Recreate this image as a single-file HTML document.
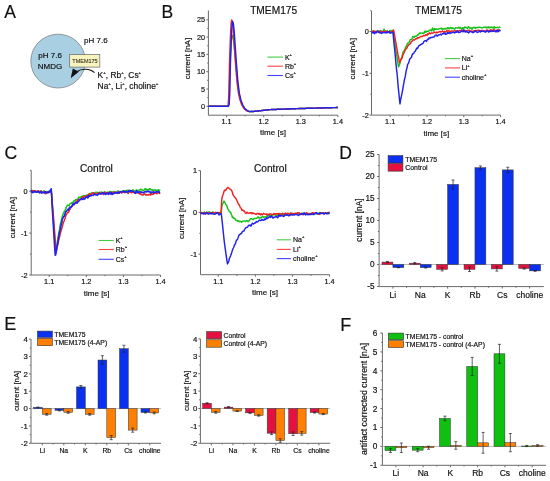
<!DOCTYPE html>
<html><head><meta charset="utf-8"><style>
html,body{margin:0;padding:0;background:#fff;}
svg{display:block;font-family:"Liberation Sans", sans-serif;filter:blur(0.3px);}
text{stroke:#111;stroke-width:0.18px;}
</style></head><body>
<svg width="550" height="481" viewBox="0 0 550 481">
<rect width="550" height="481" fill="#fff"/>
<text x="4.30" y="18.30" font-size="17.5" text-anchor="start" fill="#111">A</text>
<ellipse cx="58.1" cy="61.1" rx="27.3" ry="26.9" fill="#a9cfe3" stroke="#777" stroke-width="0.7"/>
<text x="50.10" y="58.48" font-size="8" text-anchor="middle" fill="#111">pH 7.6</text>
<text x="50.00" y="68.68" font-size="8" text-anchor="middle" fill="#111">NMDG</text>
<text x="95.90" y="43.28" font-size="8" text-anchor="middle" fill="#111">pH 7.6</text>
<rect x="69.70" y="54.60" width="30.10" height="12.50" fill="#f8f4c0" stroke="#666" stroke-width="0.7"/>
<text x="85.00" y="62.78" font-size="5.5" text-anchor="middle" fill="#3a3020" style="stroke:#3a3020;stroke-width:0.1px">TMEM175</text>
<path d="M94.5,72.7 C90,68.3 82,68.3 76.5,71.8" fill="none" stroke="#111" stroke-width="1.1"/>
<path d="M72.8,68.6 L70.7,78.3 L78.8,71.8 Z" fill="#111"/>
<text x="97.6" y="77.60" font-size="8.4" fill="#111">K<tspan font-size="4.4" dy="-3.9">+</tspan><tspan dy="3.9">, Rb</tspan><tspan font-size="4.4" dy="-3.9">+</tspan><tspan dy="3.9">, Cs</tspan><tspan font-size="4.4" dy="-3.9">+</tspan></text>
<text x="97.6" y="89.10" font-size="8.4" fill="#111">Na<tspan font-size="4.4" dy="-3.9">+</tspan><tspan dy="3.9">, Li</tspan><tspan font-size="4.4" dy="-3.9">+</tspan><tspan dy="3.9">, choline</tspan><tspan font-size="4.4" dy="-3.9">+</tspan></text>
<text x="161.40" y="17.90" font-size="17.5" text-anchor="start" fill="#111">B</text>
<text x="273.65" y="14.47" font-size="10.2" text-anchor="middle" fill="#111">TMEM175</text>
<text x="0" y="0" font-size="8" text-anchor="middle" fill="#111" transform="translate(189.98 58.50) rotate(-90)">current [nA]</text>
<text x="273.00" y="135.18" font-size="8" text-anchor="middle" fill="#111">time [s]</text>
<line x1="208.40" y1="10.50" x2="208.40" y2="115.20" stroke="#6a6a6a" stroke-width="1.0"/>
<line x1="206.40" y1="106.30" x2="208.40" y2="106.30" stroke="#6a6a6a" stroke-width="1.0"/>
<text x="205.00" y="108.93" font-size="7.3" text-anchor="end" fill="#111">0</text>
<line x1="206.40" y1="89.00" x2="208.40" y2="89.00" stroke="#6a6a6a" stroke-width="1.0"/>
<text x="205.00" y="91.63" font-size="7.3" text-anchor="end" fill="#111">5</text>
<line x1="206.40" y1="71.70" x2="208.40" y2="71.70" stroke="#6a6a6a" stroke-width="1.0"/>
<text x="205.00" y="74.33" font-size="7.3" text-anchor="end" fill="#111">10</text>
<line x1="206.40" y1="54.40" x2="208.40" y2="54.40" stroke="#6a6a6a" stroke-width="1.0"/>
<text x="205.00" y="57.03" font-size="7.3" text-anchor="end" fill="#111">15</text>
<line x1="206.40" y1="37.10" x2="208.40" y2="37.10" stroke="#6a6a6a" stroke-width="1.0"/>
<text x="205.00" y="39.73" font-size="7.3" text-anchor="end" fill="#111">20</text>
<line x1="206.40" y1="19.80" x2="208.40" y2="19.80" stroke="#6a6a6a" stroke-width="1.0"/>
<text x="205.00" y="22.43" font-size="7.3" text-anchor="end" fill="#111">25</text>
<line x1="207.20" y1="97.65" x2="208.40" y2="97.65" stroke="#6a6a6a" stroke-width="1.0"/>
<line x1="207.20" y1="80.35" x2="208.40" y2="80.35" stroke="#6a6a6a" stroke-width="1.0"/>
<line x1="207.20" y1="63.05" x2="208.40" y2="63.05" stroke="#6a6a6a" stroke-width="1.0"/>
<line x1="207.20" y1="45.75" x2="208.40" y2="45.75" stroke="#6a6a6a" stroke-width="1.0"/>
<line x1="207.20" y1="28.45" x2="208.40" y2="28.45" stroke="#6a6a6a" stroke-width="1.0"/>
<line x1="208.40" y1="115.20" x2="337.90" y2="115.20" stroke="#6a6a6a" stroke-width="1.0"/>
<line x1="226.60" y1="115.20" x2="226.60" y2="117.20" stroke="#6a6a6a" stroke-width="1.0"/>
<text x="226.60" y="124.33" font-size="7.3" text-anchor="middle" fill="#111">1.1</text>
<line x1="263.70" y1="115.20" x2="263.70" y2="117.20" stroke="#6a6a6a" stroke-width="1.0"/>
<text x="263.70" y="124.33" font-size="7.3" text-anchor="middle" fill="#111">1.2</text>
<line x1="300.80" y1="115.20" x2="300.80" y2="117.20" stroke="#6a6a6a" stroke-width="1.0"/>
<text x="300.80" y="124.33" font-size="7.3" text-anchor="middle" fill="#111">1.3</text>
<line x1="337.90" y1="115.20" x2="337.90" y2="117.20" stroke="#6a6a6a" stroke-width="1.0"/>
<text x="337.90" y="124.33" font-size="7.3" text-anchor="middle" fill="#111">1.4</text>
<line x1="245.15" y1="115.20" x2="245.15" y2="116.40" stroke="#6a6a6a" stroke-width="1.0"/>
<line x1="282.25" y1="115.20" x2="282.25" y2="116.40" stroke="#6a6a6a" stroke-width="1.0"/>
<line x1="319.35" y1="115.20" x2="319.35" y2="116.40" stroke="#6a6a6a" stroke-width="1.0"/>
<polyline points="208.40,106.3 208.65,106.3 208.90,106.3 209.15,106.3 209.40,106.3 209.65,106.3 209.90,106.3 210.15,106.3 210.40,106.3 210.65,106.3 210.90,106.3 211.15,106.3 211.40,106.3 211.65,106.3 211.90,106.3 212.15,106.3 212.40,106.3 212.65,106.3 212.90,106.3 213.15,106.3 213.40,106.3 213.65,106.3 213.90,106.3 214.15,106.3 214.40,106.3 214.65,106.3 214.90,106.3 215.15,106.3 215.40,106.3 215.65,106.3 215.90,106.3 216.15,106.3 216.40,106.3 216.65,106.3 216.90,106.3 217.15,106.3 217.40,106.3 217.65,106.3 217.90,106.3 218.15,106.3 218.40,106.3 218.65,106.3 218.90,106.3 219.15,106.3 219.40,106.3 219.65,106.3 219.90,106.3 220.15,106.3 220.40,106.3 220.65,106.3 220.90,106.3 221.15,106.3 221.40,106.3 221.65,106.3 221.90,106.3 222.15,106.3 222.40,106.3 222.65,106.3 222.90,106.3 223.15,106.3 223.40,106.3 223.65,106.3 223.90,106.3 224.15,106.3 224.40,106.3 224.65,106.3 224.90,106.3 225.15,106.3 225.40,106.3 225.65,106.3 225.90,106.3 226.15,106.3 226.40,106.3 226.65,106.3 226.90,106.3 227.15,106.3 227.40,106.3 227.65,106.3 227.90,106.3 228.15,105.9 228.40,105.5 228.65,105.1 228.90,101.7 229.15,97.5 229.40,90.6 229.65,79.7 229.90,68.7 230.15,60.7 230.40,56.2 230.65,51.7 230.90,47.1 231.15,43.4 231.40,40.3 231.65,37.6 231.90,36.6 232.15,35.6 232.40,35.7 232.65,36.1 232.90,36.5 233.15,38.0 233.40,39.6 233.65,41.1 233.90,43.0 234.15,45.6 234.40,48.1 234.65,50.6 234.90,53.1 235.15,55.6 235.40,58.1 235.65,60.5 235.90,63.0 236.15,65.6 236.40,68.6 236.65,71.7 236.90,74.7 237.15,77.8 237.40,80.8 237.65,83.2 237.90,85.1 238.15,87.1 238.40,89.1 238.65,91.0 238.90,93.0 239.15,94.1 239.40,95.2 239.65,96.3 239.90,97.4 240.15,98.5 240.40,99.6 240.65,100.4 240.90,101.1 241.15,101.8 241.40,102.5 241.65,103.2 241.90,103.9 242.15,104.6 242.40,105.0 242.65,105.5 242.90,105.9 243.15,106.3 243.40,106.7 243.65,107.2 243.90,107.6 244.15,108.0 244.40,108.4 244.65,108.6 244.90,108.9 245.15,109.1 245.40,109.3 245.65,109.5 245.90,109.8 246.15,110.0 246.40,110.2 246.65,110.5 246.90,110.6 247.15,110.7 247.40,110.8 247.65,110.9 247.90,111.0 248.15,111.1 248.40,111.2 248.65,111.3 248.90,111.4 249.15,111.5 249.40,111.6 249.65,111.6 249.90,111.6 250.15,111.6 250.40,111.6 250.65,111.5 250.90,111.5 251.15,111.5 251.40,111.5 251.65,111.5 251.90,111.5 252.15,111.5 252.40,111.4 252.65,111.4 252.90,111.4 253.15,111.4 253.40,111.4 253.65,111.4 253.90,111.4 254.15,111.3 254.40,111.3 254.65,111.3 254.90,111.3 255.15,111.3 255.40,111.3 255.65,111.2 255.90,111.2 256.15,111.2 256.40,111.1 256.65,111.1 256.90,111.1 257.15,111.1 257.40,111.0 257.65,111.0 257.90,111.0 258.15,110.9 258.40,110.9 258.65,110.9 258.90,110.9 259.15,110.8 259.40,110.8 259.65,110.8 259.90,110.7 260.15,110.7 260.40,110.7 260.65,110.7 260.90,110.6 261.15,110.6 261.40,110.6 261.65,110.5 261.90,110.5 262.15,110.5 262.40,110.5 262.65,110.4 262.90,110.4 263.15,110.4 263.40,110.3 263.65,110.3 263.90,110.3 264.15,110.3 264.40,110.2 264.65,110.2 264.90,110.2 265.15,110.1 265.40,110.1 265.65,110.1 265.90,110.1 266.15,110.0 266.40,110.0 266.65,110.0 266.90,109.9 267.15,109.9 267.40,109.9 267.65,109.9 267.90,109.8 268.15,109.8 268.40,109.8 268.65,109.8 268.90,109.7 269.15,109.7 269.40,109.7 269.65,109.6 269.90,109.6 270.15,109.6 270.40,109.6 270.65,109.6 270.90,109.6 271.15,109.6 271.40,109.5 271.65,109.5 271.90,109.5 272.15,109.5 272.40,109.5 272.65,109.5 272.90,109.5 273.15,109.5 273.40,109.5 273.65,109.5 273.90,109.5 274.15,109.4 274.40,109.4 274.65,109.4 274.90,109.4 275.15,109.4 275.40,109.4 275.65,109.4 275.90,109.4 276.15,109.4 276.40,109.4 276.65,109.4 276.90,109.3 277.15,109.3 277.40,109.3 277.65,109.3 277.90,109.3 278.15,109.3 278.40,109.3 278.65,109.3 278.90,109.3 279.15,109.3 279.40,109.3 279.65,109.2 279.90,109.2 280.15,109.2 280.40,109.2 280.65,109.2 280.90,109.2 281.15,109.2 281.40,109.2 281.65,109.2 281.90,109.2 282.15,109.2 282.40,109.1 282.65,109.1 282.90,109.1 283.15,109.1 283.40,109.1 283.65,109.1 283.90,109.1 284.15,109.1 284.40,109.1 284.65,109.1 284.90,109.1 285.15,109.0 285.40,109.0 285.65,109.0 285.90,109.0 286.15,109.0 286.40,109.0 286.65,109.0 286.90,109.0 287.15,109.0 287.40,109.0 287.65,109.0 287.90,108.9 288.15,108.9 288.40,108.9 288.65,108.9 288.90,108.9 289.15,108.9 289.40,108.9 289.65,108.9 289.90,108.9 290.15,108.9 290.40,108.9 290.65,108.8 290.90,108.8 291.15,108.8 291.40,108.8 291.65,108.8 291.90,108.8 292.15,108.8 292.40,108.8 292.65,108.8 292.90,108.8 293.15,108.8 293.40,108.7 293.65,108.7 293.90,108.7 294.15,108.7 294.40,108.7 294.65,108.7 294.90,108.7 295.15,108.7 295.40,108.7 295.65,108.7 295.90,108.7 296.15,108.6 296.40,108.6 296.65,108.6 296.90,108.6 297.15,108.6 297.40,108.6 297.65,108.6 297.90,108.6 298.15,108.6 298.40,108.6 298.65,108.5 298.90,108.5 299.15,108.5 299.40,108.5 299.65,108.5 299.90,108.5 300.15,108.5 300.40,108.5 300.65,108.5 300.90,108.5 301.15,108.5 301.40,108.5 301.65,108.5 301.90,108.4 302.15,108.4 302.40,108.4 302.65,108.4 302.90,108.4 303.15,108.4 303.40,108.4 303.65,108.4 303.90,108.4 304.15,108.4 304.40,108.4 304.65,108.4 304.90,108.4 305.15,108.4 305.40,108.4 305.65,108.4 305.90,108.3 306.15,108.3 306.40,108.3 306.65,108.3 306.90,108.3 307.15,108.3 307.40,108.3 307.65,108.3 307.90,108.3 308.15,108.3 308.40,108.3 308.65,108.3 308.90,108.3 309.15,108.3 309.40,108.3 309.65,108.2 309.90,108.2 310.15,108.2 310.40,108.2 310.65,108.2 310.90,108.2 311.15,108.2 311.40,108.2 311.65,108.2 311.90,108.2 312.15,108.2 312.40,108.2 312.65,108.2 312.90,108.2 313.15,108.2 313.40,108.1 313.65,108.1 313.90,108.1 314.15,108.1 314.40,108.1 314.65,108.1 314.90,108.1 315.15,108.1 315.40,108.1 315.65,108.1 315.90,108.1 316.15,108.1 316.40,108.1 316.65,108.1 316.90,108.1 317.15,108.0 317.40,108.0 317.65,108.0 317.90,108.0 318.15,108.0 318.40,108.0 318.65,108.0 318.90,108.0 319.15,108.0 319.40,108.0 319.65,108.0 319.90,108.0 320.15,108.0 320.40,108.0 320.65,108.0 320.90,107.9 321.15,107.9 321.40,107.9 321.65,107.9 321.90,107.9 322.15,107.9 322.40,107.9 322.65,107.9 322.90,107.9 323.15,107.9 323.40,107.9 323.65,107.9 323.90,107.9 324.15,107.9 324.40,107.9 324.65,107.8 324.90,107.8 325.15,107.8 325.40,107.8 325.65,107.8 325.90,107.8 326.15,107.8 326.40,107.8 326.65,107.8 326.90,107.8 327.15,107.8 327.40,107.8 327.65,107.8 327.90,107.8 328.15,107.8 328.40,107.8 328.65,107.7 328.90,107.7 329.15,107.7 329.40,107.7 329.65,107.7 329.90,107.7 330.15,107.7 330.40,107.7 330.65,107.7 330.90,107.7 331.15,107.7 331.40,107.7 331.65,107.7 331.90,107.7 332.15,107.7 332.40,107.6 332.65,107.6 332.90,107.6 333.15,107.6 333.40,107.6 333.65,107.6 333.90,107.6 334.15,107.6 334.40,107.6 334.65,107.6 334.90,107.6 335.15,107.6 335.40,107.6 335.65,107.6 335.90,107.6 336.15,107.5 336.40,107.5 336.65,107.5 336.90,107.5 337.15,107.5 337.40,107.5 337.65,107.5 337.90,107.5" fill="none" stroke="#1bbf1b" stroke-width="1.45" stroke-linejoin="round"/>
<polyline points="208.40,106.3 208.65,106.3 208.90,106.3 209.15,106.3 209.40,106.3 209.65,106.3 209.90,106.3 210.15,106.3 210.40,106.3 210.65,106.3 210.90,106.3 211.15,106.3 211.40,106.3 211.65,106.3 211.90,106.3 212.15,106.3 212.40,106.3 212.65,106.3 212.90,106.3 213.15,106.3 213.40,106.3 213.65,106.3 213.90,106.3 214.15,106.3 214.40,106.3 214.65,106.3 214.90,106.3 215.15,106.3 215.40,106.3 215.65,106.3 215.90,106.3 216.15,106.3 216.40,106.3 216.65,106.3 216.90,106.3 217.15,106.3 217.40,106.3 217.65,106.3 217.90,106.3 218.15,106.3 218.40,106.3 218.65,106.3 218.90,106.3 219.15,106.3 219.40,106.3 219.65,106.3 219.90,106.3 220.15,106.3 220.40,106.3 220.65,106.3 220.90,106.3 221.15,106.3 221.40,106.3 221.65,106.3 221.90,106.3 222.15,106.3 222.40,106.3 222.65,106.3 222.90,106.3 223.15,106.3 223.40,106.3 223.65,106.3 223.90,106.3 224.15,106.3 224.40,106.3 224.65,106.3 224.90,106.3 225.15,106.3 225.40,106.3 225.65,106.3 225.90,106.3 226.15,106.3 226.40,106.3 226.65,106.3 226.90,106.3 227.15,106.3 227.40,106.3 227.65,105.9 227.90,105.5 228.15,105.1 228.40,101.7 228.65,97.5 228.90,90.6 229.15,79.7 229.40,68.7 229.65,58.6 229.90,51.7 230.15,44.7 230.40,37.8 230.65,32.1 230.90,27.3 231.15,23.2 231.40,21.6 231.65,20.1 231.90,20.3 232.15,20.9 232.40,21.5 232.65,23.9 232.90,26.2 233.15,28.6 233.40,31.5 233.65,35.4 233.90,39.2 234.15,43.1 234.40,46.9 234.65,50.8 234.90,54.5 235.15,58.3 235.40,62.0 235.65,65.6 235.90,68.6 236.15,71.7 236.40,74.7 236.65,77.8 236.90,80.8 237.15,83.2 237.40,85.1 237.65,87.1 237.90,89.1 238.15,91.0 238.40,93.0 238.65,94.1 238.90,95.2 239.15,96.3 239.40,97.4 239.65,98.5 239.90,99.6 240.15,100.4 240.40,101.1 240.65,101.8 240.90,102.5 241.15,103.2 241.40,103.9 241.65,104.6 241.90,105.0 242.15,105.5 242.40,105.9 242.65,106.3 242.90,106.7 243.15,107.2 243.40,107.6 243.65,108.0 243.90,108.4 244.15,108.6 244.40,108.9 244.65,109.1 244.90,109.3 245.15,109.5 245.40,109.8 245.65,110.0 245.90,110.2 246.15,110.5 246.40,110.6 246.65,110.7 246.90,110.8 247.15,110.9 247.40,110.9 247.65,111.0 247.90,111.1 248.15,111.2 248.40,111.3 248.65,111.3 248.90,111.4 249.15,111.5 249.40,111.6 249.65,111.6 249.90,111.6 250.15,111.6 250.40,111.6 250.65,111.5 250.90,111.5 251.15,111.5 251.40,111.5 251.65,111.5 251.90,111.5 252.15,111.5 252.40,111.4 252.65,111.4 252.90,111.4 253.15,111.4 253.40,111.4 253.65,111.4 253.90,111.4 254.15,111.3 254.40,111.3 254.65,111.3 254.90,111.3 255.15,111.3 255.40,111.3 255.65,111.2 255.90,111.2 256.15,111.2 256.40,111.1 256.65,111.1 256.90,111.1 257.15,111.1 257.40,111.0 257.65,111.0 257.90,111.0 258.15,110.9 258.40,110.9 258.65,110.9 258.90,110.9 259.15,110.8 259.40,110.8 259.65,110.8 259.90,110.7 260.15,110.7 260.40,110.7 260.65,110.7 260.90,110.6 261.15,110.6 261.40,110.6 261.65,110.5 261.90,110.5 262.15,110.5 262.40,110.5 262.65,110.4 262.90,110.4 263.15,110.4 263.40,110.3 263.65,110.3 263.90,110.3 264.15,110.3 264.40,110.2 264.65,110.2 264.90,110.2 265.15,110.1 265.40,110.1 265.65,110.1 265.90,110.1 266.15,110.0 266.40,110.0 266.65,110.0 266.90,109.9 267.15,109.9 267.40,109.9 267.65,109.9 267.90,109.8 268.15,109.8 268.40,109.8 268.65,109.8 268.90,109.7 269.15,109.7 269.40,109.7 269.65,109.6 269.90,109.6 270.15,109.6 270.40,109.6 270.65,109.6 270.90,109.6 271.15,109.6 271.40,109.5 271.65,109.5 271.90,109.5 272.15,109.5 272.40,109.5 272.65,109.5 272.90,109.5 273.15,109.5 273.40,109.5 273.65,109.5 273.90,109.5 274.15,109.4 274.40,109.4 274.65,109.4 274.90,109.4 275.15,109.4 275.40,109.4 275.65,109.4 275.90,109.4 276.15,109.4 276.40,109.4 276.65,109.4 276.90,109.3 277.15,109.3 277.40,109.3 277.65,109.3 277.90,109.3 278.15,109.3 278.40,109.3 278.65,109.3 278.90,109.3 279.15,109.3 279.40,109.3 279.65,109.2 279.90,109.2 280.15,109.2 280.40,109.2 280.65,109.2 280.90,109.2 281.15,109.2 281.40,109.2 281.65,109.2 281.90,109.2 282.15,109.2 282.40,109.1 282.65,109.1 282.90,109.1 283.15,109.1 283.40,109.1 283.65,109.1 283.90,109.1 284.15,109.1 284.40,109.1 284.65,109.1 284.90,109.1 285.15,109.0 285.40,109.0 285.65,109.0 285.90,109.0 286.15,109.0 286.40,109.0 286.65,109.0 286.90,109.0 287.15,109.0 287.40,109.0 287.65,109.0 287.90,108.9 288.15,108.9 288.40,108.9 288.65,108.9 288.90,108.9 289.15,108.9 289.40,108.9 289.65,108.9 289.90,108.9 290.15,108.9 290.40,108.9 290.65,108.8 290.90,108.8 291.15,108.8 291.40,108.8 291.65,108.8 291.90,108.8 292.15,108.8 292.40,108.8 292.65,108.8 292.90,108.8 293.15,108.8 293.40,108.7 293.65,108.7 293.90,108.7 294.15,108.7 294.40,108.7 294.65,108.7 294.90,108.7 295.15,108.7 295.40,108.7 295.65,108.7 295.90,108.7 296.15,108.6 296.40,108.6 296.65,108.6 296.90,108.6 297.15,108.6 297.40,108.6 297.65,108.6 297.90,108.6 298.15,108.6 298.40,108.6 298.65,108.5 298.90,108.5 299.15,108.5 299.40,108.5 299.65,108.5 299.90,108.5 300.15,108.5 300.40,108.5 300.65,108.5 300.90,108.5 301.15,108.5 301.40,108.5 301.65,108.5 301.90,108.4 302.15,108.4 302.40,108.4 302.65,108.4 302.90,108.4 303.15,108.4 303.40,108.4 303.65,108.4 303.90,108.4 304.15,108.4 304.40,108.4 304.65,108.4 304.90,108.4 305.15,108.4 305.40,108.4 305.65,108.4 305.90,108.3 306.15,108.3 306.40,108.3 306.65,108.3 306.90,108.3 307.15,108.3 307.40,108.3 307.65,108.3 307.90,108.3 308.15,108.3 308.40,108.3 308.65,108.3 308.90,108.3 309.15,108.3 309.40,108.3 309.65,108.2 309.90,108.2 310.15,108.2 310.40,108.2 310.65,108.2 310.90,108.2 311.15,108.2 311.40,108.2 311.65,108.2 311.90,108.2 312.15,108.2 312.40,108.2 312.65,108.2 312.90,108.2 313.15,108.2 313.40,108.1 313.65,108.1 313.90,108.1 314.15,108.1 314.40,108.1 314.65,108.1 314.90,108.1 315.15,108.1 315.40,108.1 315.65,108.1 315.90,108.1 316.15,108.1 316.40,108.1 316.65,108.1 316.90,108.1 317.15,108.0 317.40,108.0 317.65,108.0 317.90,108.0 318.15,108.0 318.40,108.0 318.65,108.0 318.90,108.0 319.15,108.0 319.40,108.0 319.65,108.0 319.90,108.0 320.15,108.0 320.40,108.0 320.65,108.0 320.90,107.9 321.15,107.9 321.40,107.9 321.65,107.9 321.90,107.9 322.15,107.9 322.40,107.9 322.65,107.9 322.90,107.9 323.15,107.9 323.40,107.9 323.65,107.9 323.90,107.9 324.15,107.9 324.40,107.9 324.65,107.8 324.90,107.8 325.15,107.8 325.40,107.8 325.65,107.8 325.90,107.8 326.15,107.8 326.40,107.8 326.65,107.8 326.90,107.8 327.15,107.8 327.40,107.8 327.65,107.8 327.90,107.8 328.15,107.8 328.40,107.8 328.65,107.7 328.90,107.7 329.15,107.7 329.40,107.7 329.65,107.7 329.90,107.7 330.15,107.7 330.40,107.7 330.65,107.7 330.90,107.7 331.15,107.7 331.40,107.7 331.65,107.7 331.90,107.7 332.15,107.7 332.40,107.6 332.65,107.6 332.90,107.6 333.15,107.6 333.40,107.6 333.65,107.6 333.90,107.6 334.15,107.6 334.40,107.6 334.65,107.6 334.90,107.6 335.15,107.6 335.40,107.6 335.65,107.6 335.90,107.6 336.15,107.5 336.40,107.5 336.65,107.5 336.90,107.5 337.15,107.5 337.40,107.5 337.65,107.5 337.90,107.5" fill="none" stroke="#ee2222" stroke-width="1.45" stroke-linejoin="round"/>
<polyline points="208.40,106.3 208.65,106.3 208.90,106.3 209.15,106.3 209.40,106.3 209.65,106.3 209.90,106.3 210.15,106.3 210.40,106.3 210.65,106.3 210.90,106.3 211.15,106.3 211.40,106.3 211.65,106.3 211.90,106.3 212.15,106.3 212.40,106.3 212.65,106.3 212.90,106.3 213.15,106.3 213.40,106.3 213.65,106.3 213.90,106.3 214.15,106.3 214.40,106.3 214.65,106.3 214.90,106.3 215.15,106.3 215.40,106.3 215.65,106.3 215.90,106.3 216.15,106.3 216.40,106.3 216.65,106.3 216.90,106.3 217.15,106.3 217.40,106.3 217.65,106.3 217.90,106.3 218.15,106.3 218.40,106.3 218.65,106.3 218.90,106.3 219.15,106.3 219.40,106.3 219.65,106.3 219.90,106.3 220.15,106.3 220.40,106.3 220.65,106.3 220.90,106.3 221.15,106.3 221.40,106.3 221.65,106.3 221.90,106.3 222.15,106.3 222.40,106.3 222.65,106.3 222.90,106.3 223.15,106.3 223.40,106.3 223.65,106.3 223.90,106.3 224.15,106.3 224.40,106.3 224.65,106.3 224.90,106.3 225.15,106.3 225.40,106.3 225.65,106.3 225.90,106.3 226.15,106.3 226.40,106.3 226.65,106.3 226.90,106.3 227.15,106.3 227.40,106.3 227.65,106.3 227.90,106.3 228.15,106.3 228.40,106.1 228.65,105.7 228.90,105.3 229.15,104.2 229.40,100.0 229.65,95.8 229.90,86.3 230.15,75.3 230.40,64.4 230.65,56.2 230.90,49.5 231.15,42.8 231.40,36.1 231.65,31.5 231.90,26.9 232.15,24.2 232.40,22.7 232.65,21.6 232.90,22.2 233.15,22.8 233.40,24.1 233.65,26.3 233.90,28.6 234.15,30.9 234.40,34.3 234.65,38.0 234.90,41.7 235.15,45.4 235.40,49.1 235.65,52.7 235.90,56.3 236.15,59.9 236.40,63.5 236.65,66.8 236.90,69.9 237.15,72.9 237.40,75.9 237.65,79.0 237.90,82.0 238.15,84.0 238.40,85.9 238.65,87.9 238.90,89.9 239.15,91.8 239.40,93.4 239.65,94.5 239.90,95.6 240.15,96.7 240.40,97.8 240.65,98.9 240.90,100.0 241.15,100.7 241.40,101.4 241.65,102.1 241.90,102.8 242.15,103.5 242.40,104.2 242.65,104.8 242.90,105.2 243.15,105.6 243.40,106.1 243.65,106.5 243.90,106.9 244.15,107.3 244.40,107.8 244.65,108.2 244.90,108.5 245.15,108.7 245.40,108.9 245.65,109.2 245.90,109.4 246.15,109.6 246.40,109.9 246.65,110.1 246.90,110.3 247.15,110.6 247.40,110.7 247.65,110.8 247.90,110.9 248.15,111.0 248.40,111.1 248.65,111.2 248.90,111.3 249.15,111.4 249.40,111.6 249.65,111.6 249.90,111.6 250.15,111.6 250.40,111.6 250.65,111.5 250.90,111.5 251.15,111.5 251.40,111.5 251.65,111.5 251.90,111.5 252.15,111.5 252.40,111.4 252.65,111.4 252.90,111.4 253.15,111.4 253.40,111.4 253.65,111.4 253.90,111.4 254.15,111.3 254.40,111.3 254.65,111.3 254.90,111.3 255.15,111.3 255.40,111.3 255.65,111.2 255.90,111.2 256.15,111.2 256.40,111.1 256.65,111.1 256.90,111.1 257.15,111.1 257.40,111.0 257.65,111.0 257.90,111.0 258.15,110.9 258.40,110.9 258.65,110.9 258.90,110.9 259.15,110.8 259.40,110.8 259.65,110.8 259.90,110.7 260.15,110.7 260.40,110.7 260.65,110.7 260.90,110.6 261.15,110.6 261.40,110.6 261.65,110.5 261.90,110.5 262.15,110.5 262.40,110.5 262.65,110.4 262.90,110.4 263.15,110.4 263.40,110.3 263.65,110.3 263.90,110.3 264.15,110.3 264.40,110.2 264.65,110.2 264.90,110.2 265.15,110.1 265.40,110.1 265.65,110.1 265.90,110.1 266.15,110.0 266.40,110.0 266.65,110.0 266.90,109.9 267.15,109.9 267.40,109.9 267.65,109.9 267.90,109.8 268.15,109.8 268.40,109.8 268.65,109.8 268.90,109.7 269.15,109.7 269.40,109.7 269.65,109.6 269.90,109.6 270.15,109.6 270.40,109.6 270.65,109.6 270.90,109.6 271.15,109.6 271.40,109.5 271.65,109.5 271.90,109.5 272.15,109.5 272.40,109.5 272.65,109.5 272.90,109.5 273.15,109.5 273.40,109.5 273.65,109.5 273.90,109.5 274.15,109.4 274.40,109.4 274.65,109.4 274.90,109.4 275.15,109.4 275.40,109.4 275.65,109.4 275.90,109.4 276.15,109.4 276.40,109.4 276.65,109.4 276.90,109.3 277.15,109.3 277.40,109.3 277.65,109.3 277.90,109.3 278.15,109.3 278.40,109.3 278.65,109.3 278.90,109.3 279.15,109.3 279.40,109.3 279.65,109.2 279.90,109.2 280.15,109.2 280.40,109.2 280.65,109.2 280.90,109.2 281.15,109.2 281.40,109.2 281.65,109.2 281.90,109.2 282.15,109.2 282.40,109.1 282.65,109.1 282.90,109.1 283.15,109.1 283.40,109.1 283.65,109.1 283.90,109.1 284.15,109.1 284.40,109.1 284.65,109.1 284.90,109.1 285.15,109.0 285.40,109.0 285.65,109.0 285.90,109.0 286.15,109.0 286.40,109.0 286.65,109.0 286.90,109.0 287.15,109.0 287.40,109.0 287.65,109.0 287.90,108.9 288.15,108.9 288.40,108.9 288.65,108.9 288.90,108.9 289.15,108.9 289.40,108.9 289.65,108.9 289.90,108.9 290.15,108.9 290.40,108.9 290.65,108.8 290.90,108.8 291.15,108.8 291.40,108.8 291.65,108.8 291.90,108.8 292.15,108.8 292.40,108.8 292.65,108.8 292.90,108.8 293.15,108.8 293.40,108.7 293.65,108.7 293.90,108.7 294.15,108.7 294.40,108.7 294.65,108.7 294.90,108.7 295.15,108.7 295.40,108.7 295.65,108.7 295.90,108.7 296.15,108.6 296.40,108.6 296.65,108.6 296.90,108.6 297.15,108.6 297.40,108.6 297.65,108.6 297.90,108.6 298.15,108.6 298.40,108.6 298.65,108.5 298.90,108.5 299.15,108.5 299.40,108.5 299.65,108.5 299.90,108.5 300.15,108.5 300.40,108.5 300.65,108.5 300.90,108.5 301.15,108.5 301.40,108.5 301.65,108.5 301.90,108.4 302.15,108.4 302.40,108.4 302.65,108.4 302.90,108.4 303.15,108.4 303.40,108.4 303.65,108.4 303.90,108.4 304.15,108.4 304.40,108.4 304.65,108.4 304.90,108.4 305.15,108.4 305.40,108.4 305.65,108.4 305.90,108.3 306.15,108.3 306.40,108.3 306.65,108.3 306.90,108.3 307.15,108.3 307.40,108.3 307.65,108.3 307.90,108.3 308.15,108.3 308.40,108.3 308.65,108.3 308.90,108.3 309.15,108.3 309.40,108.3 309.65,108.2 309.90,108.2 310.15,108.2 310.40,108.2 310.65,108.2 310.90,108.2 311.15,108.2 311.40,108.2 311.65,108.2 311.90,108.2 312.15,108.2 312.40,108.2 312.65,108.2 312.90,108.2 313.15,108.2 313.40,108.1 313.65,108.1 313.90,108.1 314.15,108.1 314.40,108.1 314.65,108.1 314.90,108.1 315.15,108.1 315.40,108.1 315.65,108.1 315.90,108.1 316.15,108.1 316.40,108.1 316.65,108.1 316.90,108.1 317.15,108.0 317.40,108.0 317.65,108.0 317.90,108.0 318.15,108.0 318.40,108.0 318.65,108.0 318.90,108.0 319.15,108.0 319.40,108.0 319.65,108.0 319.90,108.0 320.15,108.0 320.40,108.0 320.65,108.0 320.90,107.9 321.15,107.9 321.40,107.9 321.65,107.9 321.90,107.9 322.15,107.9 322.40,107.9 322.65,107.9 322.90,107.9 323.15,107.9 323.40,107.9 323.65,107.9 323.90,107.9 324.15,107.9 324.40,107.9 324.65,107.8 324.90,107.8 325.15,107.8 325.40,107.8 325.65,107.8 325.90,107.8 326.15,107.8 326.40,107.8 326.65,107.8 326.90,107.8 327.15,107.8 327.40,107.8 327.65,107.8 327.90,107.8 328.15,107.8 328.40,107.8 328.65,107.7 328.90,107.7 329.15,107.7 329.40,107.7 329.65,107.7 329.90,107.7 330.15,107.7 330.40,107.7 330.65,107.7 330.90,107.7 331.15,107.7 331.40,107.7 331.65,107.7 331.90,107.7 332.15,107.7 332.40,107.6 332.65,107.6 332.90,107.6 333.15,107.6 333.40,107.6 333.65,107.6 333.90,107.6 334.15,107.6 334.40,107.6 334.65,107.6 334.90,107.6 335.15,107.6 335.40,107.6 335.65,107.6 335.90,107.6 336.15,107.5 336.40,107.5 336.65,107.5 336.90,107.5 337.15,107.5 337.40,107.5 337.65,107.5 337.90,107.5" fill="none" stroke="#2222ee" stroke-width="1.45" stroke-linejoin="round"/>
<line x1="267.40" y1="57.10" x2="282.90" y2="57.10" stroke="#44cc44" stroke-width="1.1"/>
<text x="284.90" y="59.62" font-size="7" fill="#111">K<tspan font-size="4.20" dy="-3.85">+</tspan></text>
<line x1="267.40" y1="66.20" x2="282.90" y2="66.20" stroke="#ff4444" stroke-width="1.1"/>
<text x="284.90" y="68.72" font-size="7" fill="#111">Rb<tspan font-size="4.20" dy="-3.85">+</tspan></text>
<line x1="267.40" y1="75.50" x2="282.90" y2="75.50" stroke="#4444ff" stroke-width="1.1"/>
<text x="284.90" y="78.02" font-size="7" fill="#111">Cs<tspan font-size="4.20" dy="-3.85">+</tspan></text>
<text x="438.50" y="14.47" font-size="10.2" text-anchor="middle" fill="#111">TMEM175</text>
<text x="0" y="0" font-size="8" text-anchor="middle" fill="#111" transform="translate(354.98 58.80) rotate(-90)">current [nA]</text>
<text x="436.30" y="135.88" font-size="8" text-anchor="middle" fill="#111">time [s]</text>
<line x1="371.50" y1="10.90" x2="371.50" y2="115.10" stroke="#6a6a6a" stroke-width="1.0"/>
<line x1="369.50" y1="31.50" x2="371.50" y2="31.50" stroke="#6a6a6a" stroke-width="1.0"/>
<text x="368.80" y="34.13" font-size="7.3" text-anchor="end" fill="#111">0</text>
<line x1="369.50" y1="73.30" x2="371.50" y2="73.30" stroke="#6a6a6a" stroke-width="1.0"/>
<text x="368.80" y="75.93" font-size="7.3" text-anchor="end" fill="#111">-1</text>
<line x1="369.50" y1="115.10" x2="371.50" y2="115.10" stroke="#6a6a6a" stroke-width="1.0"/>
<text x="368.80" y="117.73" font-size="7.3" text-anchor="end" fill="#111">-2</text>
<line x1="370.30" y1="10.60" x2="371.50" y2="10.60" stroke="#6a6a6a" stroke-width="1.0"/>
<line x1="370.30" y1="52.40" x2="371.50" y2="52.40" stroke="#6a6a6a" stroke-width="1.0"/>
<line x1="370.30" y1="94.20" x2="371.50" y2="94.20" stroke="#6a6a6a" stroke-width="1.0"/>
<line x1="371.50" y1="115.10" x2="500.60" y2="115.10" stroke="#6a6a6a" stroke-width="1.0"/>
<line x1="390.20" y1="115.10" x2="390.20" y2="117.10" stroke="#6a6a6a" stroke-width="1.0"/>
<text x="390.20" y="124.23" font-size="7.3" text-anchor="middle" fill="#111">1.1</text>
<line x1="427.00" y1="115.10" x2="427.00" y2="117.10" stroke="#6a6a6a" stroke-width="1.0"/>
<text x="427.00" y="124.23" font-size="7.3" text-anchor="middle" fill="#111">1.2</text>
<line x1="463.80" y1="115.10" x2="463.80" y2="117.10" stroke="#6a6a6a" stroke-width="1.0"/>
<text x="463.80" y="124.23" font-size="7.3" text-anchor="middle" fill="#111">1.3</text>
<line x1="500.60" y1="115.10" x2="500.60" y2="117.10" stroke="#6a6a6a" stroke-width="1.0"/>
<text x="500.60" y="124.23" font-size="7.3" text-anchor="middle" fill="#111">1.4</text>
<line x1="408.60" y1="115.10" x2="408.60" y2="116.30" stroke="#6a6a6a" stroke-width="1.0"/>
<line x1="445.40" y1="115.10" x2="445.40" y2="116.30" stroke="#6a6a6a" stroke-width="1.0"/>
<line x1="482.20" y1="115.10" x2="482.20" y2="116.30" stroke="#6a6a6a" stroke-width="1.0"/>
<polyline points="371.50,31.6 372.00,31.8 372.50,31.8 373.00,30.9 373.50,31.1 374.00,31.9 374.50,31.3 375.00,31.3 375.50,31.7 376.00,31.6 376.50,31.4 377.00,31.5 377.50,31.2 378.00,30.9 378.50,31.0 379.00,31.3 379.50,31.6 380.00,31.2 380.50,30.8 381.00,30.9 381.50,31.2 382.00,31.2 382.50,31.7 383.00,32.3 383.50,30.6 384.00,29.3 384.50,30.4 385.00,31.0 385.50,31.2 386.00,31.5 386.50,32.3 387.00,31.7 387.50,30.7 388.00,32.0 388.50,32.4 389.00,31.9 389.50,31.4 390.00,30.4 390.50,30.7 391.00,31.4 391.50,30.8 392.00,30.5 392.50,31.0 393.00,30.9 393.50,34.1 394.00,37.7 394.50,41.0 395.00,44.0 395.50,47.5 396.00,51.3 396.50,54.4 397.00,56.9 397.50,60.3 398.00,63.6 398.50,66.9 399.00,66.0 399.50,64.4 400.00,63.2 400.50,60.6 401.00,58.9 401.50,57.8 402.00,56.4 402.50,54.3 403.00,52.1 403.50,51.6 404.00,50.8 404.50,49.8 405.00,49.3 405.50,47.5 406.00,46.2 406.50,46.4 407.00,45.1 407.50,43.2 408.00,43.1 408.50,43.0 409.00,42.5 409.50,41.7 410.00,40.1 410.50,39.6 411.00,39.5 411.50,39.3 412.00,39.0 412.50,37.5 413.00,36.3 413.50,37.1 414.00,37.6 414.50,36.7 415.00,36.1 415.50,36.3 416.00,36.3 416.50,36.2 417.00,35.8 417.50,35.1 418.00,34.6 418.50,34.9 419.00,33.7 419.50,33.0 420.00,33.7 420.50,32.9 421.00,32.9 421.50,33.1 422.00,33.1 422.50,33.2 423.00,32.9 423.50,33.4 424.00,33.1 424.50,32.0 425.00,31.0 425.50,32.0 426.00,32.4 426.50,31.2 427.00,31.2 427.50,31.2 428.00,31.4 428.50,31.3 429.00,30.8 429.50,30.3 430.00,30.3 430.50,30.0 431.00,29.9 431.50,30.9 432.00,29.8 432.50,27.9 433.00,28.8 433.50,30.9 434.00,30.1 434.50,28.5 435.00,29.1 435.50,29.3 436.00,28.8 436.50,29.0 437.00,29.4 437.50,29.3 438.00,29.2 438.50,29.2 439.00,28.7 439.50,28.6 440.00,28.5 440.50,28.6 441.00,28.5 441.50,28.0 442.00,29.1 442.50,29.5 443.00,28.8 443.50,29.0 444.00,28.8 444.50,28.5 445.00,28.8 445.50,29.0 446.00,28.3 446.50,28.5 447.00,28.7 447.50,27.8 448.00,27.7 448.50,27.9 449.00,29.0 449.50,28.6 450.00,27.9 450.50,27.5 451.00,27.4 451.50,28.6 452.00,28.5 452.50,27.8 453.00,28.0 453.50,28.5 454.00,28.6 454.50,29.2 455.00,28.9 455.50,27.8 456.00,27.7 456.50,27.9 457.00,28.0 457.50,28.0 458.00,28.0 458.50,27.3 459.00,27.6 459.50,28.1 460.00,27.2 460.50,27.7 461.00,28.8 461.50,28.7 462.00,28.2 462.50,27.6 463.00,28.8 463.50,29.5 464.00,27.8 464.50,27.1 465.00,27.6 465.50,27.3 466.00,27.3 466.50,27.8 467.00,28.2 467.50,28.8 468.00,27.1 468.50,26.7 469.00,27.2 469.50,27.7 470.00,28.4 470.50,28.2 471.00,27.6 471.50,28.2 472.00,29.5 472.50,28.3 473.00,27.5 473.50,27.7 474.00,27.5 474.50,27.3 475.00,28.1 475.50,28.2 476.00,27.3 476.50,27.9 477.00,27.7 477.50,27.4 478.00,27.5 478.50,27.5 479.00,27.2 479.50,27.1 480.00,27.5 480.50,27.5 481.00,27.7 481.50,27.7 482.00,28.0 482.50,27.9 483.00,27.6 483.50,27.4 484.00,27.2 484.50,27.0 485.00,27.4 485.50,27.5 486.00,26.9 486.50,27.6 487.00,28.0 487.50,27.7 488.00,26.7 488.50,27.0 489.00,28.0 489.50,27.2 490.00,27.4 490.50,27.7 491.00,26.9 491.50,27.2 492.00,27.6 492.50,27.7 493.00,27.1 493.50,27.7 494.00,28.2 494.50,26.7 495.00,27.3 495.50,27.8 496.00,27.6 496.50,27.6 497.00,27.5 497.50,27.7 498.00,27.4 498.50,27.6 499.00,27.7 499.50,27.0 500.00,27.3 500.50,27.8" fill="none" stroke="#1bbf1b" stroke-width="1.45" stroke-linejoin="round"/>
<polyline points="371.50,31.6 372.00,31.4 372.50,31.7 373.00,31.4 373.50,30.9 374.00,31.5 374.50,31.4 375.00,31.3 375.50,31.8 376.00,32.1 376.50,31.8 377.00,31.3 377.50,31.7 378.00,31.1 378.50,32.0 379.00,32.6 379.50,31.3 380.00,31.8 380.50,32.1 381.00,31.2 381.50,31.4 382.00,32.3 382.50,31.9 383.00,31.6 383.50,31.9 384.00,31.7 384.50,31.6 385.00,32.0 385.50,31.6 386.00,31.1 386.50,31.3 387.00,31.4 387.50,31.8 388.00,32.2 388.50,32.1 389.00,32.1 389.50,31.9 390.00,31.6 390.50,31.8 391.00,32.6 391.50,32.3 392.00,31.5 392.50,31.5 393.00,30.7 393.50,29.9 394.00,32.0 394.50,34.6 395.00,37.9 395.50,40.8 396.00,43.2 396.50,46.4 397.00,49.0 397.50,52.0 398.00,54.7 398.50,56.7 399.00,59.6 399.50,62.7 400.00,61.9 400.50,60.8 401.00,59.5 401.50,58.8 402.00,58.2 402.50,56.3 403.00,54.8 403.50,53.7 404.00,52.8 404.50,51.6 405.00,50.4 405.50,49.7 406.00,48.9 406.50,48.3 407.00,47.9 407.50,46.6 408.00,45.8 408.50,44.9 409.00,44.4 409.50,44.3 410.00,43.8 410.50,43.8 411.00,42.3 411.50,41.4 412.00,41.3 412.50,40.8 413.00,40.3 413.50,39.6 414.00,39.9 414.50,40.0 415.00,39.7 415.50,39.0 416.00,38.5 416.50,38.8 417.00,38.7 417.50,37.6 418.00,37.6 418.50,38.1 419.00,37.9 419.50,37.3 420.00,37.1 420.50,36.6 421.00,36.4 421.50,36.4 422.00,36.3 422.50,36.6 423.00,36.0 423.50,35.4 424.00,35.5 424.50,35.8 425.00,35.8 425.50,34.8 426.00,34.6 426.50,35.1 427.00,35.5 427.50,34.5 428.00,33.4 428.50,34.2 429.00,33.8 429.50,32.8 430.00,33.2 430.50,33.8 431.00,33.2 431.50,32.9 432.00,33.0 432.50,33.2 433.00,33.1 433.50,32.9 434.00,32.5 434.50,32.1 435.00,32.3 435.50,32.7 436.00,32.9 436.50,32.2 437.00,32.2 437.50,32.7 438.00,32.4 438.50,32.0 439.00,31.9 439.50,31.4 440.00,31.5 440.50,32.1 441.00,31.7 441.50,31.8 442.00,31.6 442.50,31.1 443.00,31.4 443.50,32.2 444.00,31.8 444.50,31.3 445.00,32.1 445.50,32.0 446.00,32.0 446.50,31.5 447.00,30.3 447.50,30.9 448.00,31.2 448.50,30.8 449.00,30.8 449.50,31.2 450.00,31.9 450.50,31.2 451.00,31.2 451.50,31.4 452.00,31.0 452.50,31.0 453.00,30.9 453.50,31.1 454.00,31.2 454.50,30.8 455.00,31.0 455.50,30.9 456.00,30.7 456.50,31.0 457.00,31.4 457.50,31.1 458.00,31.2 458.50,31.4 459.00,30.8 459.50,30.5 460.00,30.7 460.50,31.0 461.00,30.4 461.50,30.0 462.00,30.2 462.50,30.3 463.00,30.9 463.50,31.6 464.00,31.5 464.50,31.1 465.00,30.7 465.50,30.6 466.00,31.0 466.50,31.7 467.00,31.7 467.50,30.9 468.00,30.6 468.50,30.5 469.00,30.2 469.50,30.3 470.00,30.7 470.50,31.4 471.00,31.3 471.50,31.1 472.00,31.7 472.50,31.3 473.00,31.2 473.50,31.4 474.00,30.7 474.50,30.6 475.00,30.7 475.50,30.5 476.00,30.5 476.50,30.6 477.00,30.8 477.50,30.4 478.00,30.3 478.50,30.1 479.00,30.2 479.50,30.9 480.00,30.8 480.50,30.7 481.00,30.9 481.50,30.5 482.00,30.3 482.50,30.7 483.00,31.1 483.50,31.0 484.00,31.5 484.50,31.4 485.00,30.8 485.50,31.3 486.00,30.9 486.50,30.2 487.00,29.8 487.50,30.2 488.00,30.9 488.50,31.0 489.00,30.7 489.50,30.4 490.00,30.6 490.50,30.0 491.00,29.8 491.50,30.6 492.00,30.0 492.50,30.7 493.00,30.7 493.50,29.6 494.00,29.7 494.50,30.4 495.00,30.5 495.50,30.4 496.00,30.9 496.50,30.7 497.00,30.1 497.50,29.8 498.00,30.8 498.50,30.5 499.00,29.7 499.50,30.1 500.00,30.6 500.50,30.8" fill="none" stroke="#ee2222" stroke-width="1.45" stroke-linejoin="round"/>
<polyline points="371.50,32.9 372.00,32.3 372.50,32.4 373.00,32.9 373.50,32.1 374.00,32.4 374.50,33.7 375.00,32.9 375.50,32.2 376.00,32.9 376.50,32.4 377.00,31.2 377.50,31.3 378.00,31.8 378.50,32.0 379.00,32.4 379.50,32.7 380.00,32.1 380.50,32.2 381.00,33.2 381.50,33.4 382.00,33.1 382.50,32.7 383.00,32.7 383.50,32.4 384.00,32.3 384.50,32.6 385.00,32.8 385.50,32.9 386.00,32.2 386.50,32.1 387.00,32.9 387.50,32.4 388.00,31.8 388.50,31.9 389.00,31.6 389.50,32.2 390.00,33.2 390.50,33.1 391.00,32.8 391.50,32.5 392.00,32.5 392.50,32.2 393.00,32.5 393.50,38.2 394.00,43.4 394.50,48.0 395.00,52.8 395.50,58.1 396.00,63.9 396.50,69.1 397.00,73.0 397.50,78.2 398.00,84.7 398.50,89.9 399.00,94.7 399.50,99.7 400.00,103.8 400.50,100.4 401.00,97.8 401.50,95.6 402.00,93.3 402.50,90.8 403.00,87.7 403.50,85.0 404.00,82.2 404.50,79.4 405.00,77.5 405.50,75.2 406.00,71.7 406.50,69.4 407.00,68.1 407.50,65.2 408.00,63.7 408.50,63.3 409.00,61.6 409.50,59.9 410.00,58.8 410.50,58.2 411.00,57.8 411.50,57.2 412.00,55.3 412.50,53.9 413.00,53.7 413.50,53.7 414.00,52.8 414.50,51.7 415.00,51.6 415.50,50.9 416.00,49.6 416.50,48.5 417.00,47.9 417.50,48.5 418.00,47.6 418.50,46.3 419.00,45.7 419.50,45.2 420.00,45.3 420.50,44.8 421.00,44.4 421.50,44.3 422.00,43.8 422.50,43.7 423.00,43.4 423.50,42.3 424.00,41.4 424.50,40.9 425.00,40.8 425.50,40.6 426.00,41.0 426.50,41.4 427.00,40.2 427.50,39.2 428.00,39.6 428.50,38.8 429.00,37.9 429.50,38.6 430.00,38.2 430.50,37.5 431.00,37.4 431.50,37.6 432.00,37.5 432.50,37.2 433.00,37.2 433.50,37.0 434.00,37.0 434.50,36.6 435.00,35.6 435.50,35.1 436.00,35.0 436.50,35.2 437.00,36.0 437.50,36.1 438.00,35.4 438.50,34.9 439.00,34.8 439.50,34.9 440.00,34.8 440.50,34.3 441.00,34.2 441.50,34.9 442.00,34.2 442.50,33.6 443.00,33.5 443.50,33.5 444.00,33.9 444.50,33.0 445.00,33.1 445.50,34.4 446.00,34.3 446.50,34.0 447.00,33.9 447.50,32.6 448.00,32.8 448.50,33.3 449.00,32.5 449.50,32.9 450.00,33.4 450.50,32.8 451.00,33.0 451.50,32.8 452.00,32.6 452.50,32.5 453.00,32.4 453.50,32.2 454.00,32.5 454.50,32.9 455.00,32.8 455.50,32.4 456.00,31.7 456.50,32.3 457.00,31.5 457.50,30.9 458.00,32.1 458.50,32.6 459.00,32.6 459.50,32.3 460.00,32.2 460.50,32.0 461.00,31.4 461.50,31.0 462.00,31.3 462.50,31.7 463.00,31.6 463.50,30.6 464.00,30.1 464.50,31.1 465.00,31.9 465.50,31.9 466.00,31.5 466.50,30.9 467.00,31.8 467.50,32.2 468.00,32.1 468.50,33.0 469.00,32.5 469.50,31.8 470.00,31.7 470.50,31.5 471.00,31.5 471.50,31.9 472.00,32.0 472.50,32.3 473.00,32.7 473.50,32.3 474.00,32.0 474.50,31.9 475.00,31.2 475.50,31.2 476.00,31.2 476.50,31.7 477.00,32.4 477.50,32.5 478.00,32.1 478.50,31.8 479.00,31.6 479.50,31.1 480.00,31.4 480.50,31.9 481.00,31.3 481.50,31.4 482.00,31.2 482.50,30.9 483.00,31.3 483.50,31.2 484.00,31.0 484.50,31.5 485.00,32.1 485.50,32.1 486.00,32.0 486.50,31.1 487.00,30.9 487.50,31.0 488.00,31.2 488.50,32.0 489.00,32.0 489.50,31.3 490.00,31.1 490.50,31.4 491.00,31.0 491.50,30.9 492.00,31.5 492.50,31.2 493.00,31.0 493.50,31.3 494.00,31.1 494.50,30.8 495.00,31.3 495.50,31.6 496.00,31.9 496.50,31.5 497.00,30.3 497.50,31.0 498.00,31.9 498.50,31.3 499.00,30.5 499.50,30.7 500.00,30.6 500.50,30.5" fill="none" stroke="#2222ee" stroke-width="1.45" stroke-linejoin="round"/>
<line x1="444.90" y1="58.60" x2="460.00" y2="58.60" stroke="#44cc44" stroke-width="1.1"/>
<text x="461.80" y="61.12" font-size="7" fill="#111">Na<tspan font-size="4.20" dy="-3.85">+</tspan></text>
<line x1="444.90" y1="67.90" x2="460.00" y2="67.90" stroke="#ff4444" stroke-width="1.1"/>
<text x="461.80" y="70.42" font-size="7" fill="#111">Li<tspan font-size="4.20" dy="-3.85">+</tspan></text>
<line x1="444.90" y1="77.20" x2="460.00" y2="77.20" stroke="#4444ff" stroke-width="1.1"/>
<text x="461.80" y="79.72" font-size="7" fill="#111">choline<tspan font-size="4.20" dy="-3.85">+</tspan></text>
<text x="4.60" y="158.70" font-size="17.5" text-anchor="start" fill="#111">C</text>
<text x="96.40" y="172.07" font-size="10.2" text-anchor="middle" fill="#111">Control</text>
<text x="0" y="0" font-size="8" text-anchor="middle" fill="#111" transform="translate(14.93 217.70) rotate(-90)">current [nA]</text>
<text x="96.70" y="295.68" font-size="8" text-anchor="middle" fill="#111">time [s]</text>
<line x1="31.20" y1="170.30" x2="31.20" y2="275.00" stroke="#6a6a6a" stroke-width="1.0"/>
<line x1="29.20" y1="191.20" x2="31.20" y2="191.20" stroke="#6a6a6a" stroke-width="1.0"/>
<text x="27.50" y="193.83" font-size="7.3" text-anchor="end" fill="#111">0</text>
<line x1="29.20" y1="233.10" x2="31.20" y2="233.10" stroke="#6a6a6a" stroke-width="1.0"/>
<text x="27.50" y="235.73" font-size="7.3" text-anchor="end" fill="#111">-1</text>
<line x1="29.20" y1="275.00" x2="31.20" y2="275.00" stroke="#6a6a6a" stroke-width="1.0"/>
<text x="27.50" y="277.63" font-size="7.3" text-anchor="end" fill="#111">-2</text>
<line x1="30.00" y1="170.25" x2="31.20" y2="170.25" stroke="#6a6a6a" stroke-width="1.0"/>
<line x1="30.00" y1="212.15" x2="31.20" y2="212.15" stroke="#6a6a6a" stroke-width="1.0"/>
<line x1="30.00" y1="254.05" x2="31.20" y2="254.05" stroke="#6a6a6a" stroke-width="1.0"/>
<line x1="31.00" y1="275.00" x2="160.60" y2="275.00" stroke="#6a6a6a" stroke-width="1.0"/>
<line x1="49.20" y1="275.00" x2="49.20" y2="277.00" stroke="#6a6a6a" stroke-width="1.0"/>
<text x="49.20" y="284.43" font-size="7.3" text-anchor="middle" fill="#111">1.1</text>
<line x1="86.32" y1="275.00" x2="86.32" y2="277.00" stroke="#6a6a6a" stroke-width="1.0"/>
<text x="86.32" y="284.43" font-size="7.3" text-anchor="middle" fill="#111">1.2</text>
<line x1="123.44" y1="275.00" x2="123.44" y2="277.00" stroke="#6a6a6a" stroke-width="1.0"/>
<text x="123.44" y="284.43" font-size="7.3" text-anchor="middle" fill="#111">1.3</text>
<line x1="160.56" y1="275.00" x2="160.56" y2="277.00" stroke="#6a6a6a" stroke-width="1.0"/>
<text x="160.56" y="284.43" font-size="7.3" text-anchor="middle" fill="#111">1.4</text>
<line x1="67.76" y1="275.00" x2="67.76" y2="276.20" stroke="#6a6a6a" stroke-width="1.0"/>
<line x1="104.88" y1="275.00" x2="104.88" y2="276.20" stroke="#6a6a6a" stroke-width="1.0"/>
<line x1="142.00" y1="275.00" x2="142.00" y2="276.20" stroke="#6a6a6a" stroke-width="1.0"/>
<polyline points="31.20,189.9 31.70,190.6 32.20,190.6 32.70,190.6 33.20,191.9 33.70,191.9 34.20,191.6 34.70,191.5 35.20,190.9 35.70,190.7 36.20,191.3 36.70,191.8 37.20,192.0 37.70,191.7 38.20,191.1 38.70,191.5 39.20,192.1 39.70,192.7 40.20,192.0 40.70,191.1 41.20,190.8 41.70,191.7 42.20,192.4 42.70,191.8 43.20,191.9 43.70,191.3 44.20,190.9 44.70,192.1 45.20,192.9 45.70,192.5 46.20,191.9 46.70,191.9 47.20,192.7 47.70,192.0 48.20,191.3 48.70,191.4 49.20,191.4 49.70,191.5 50.20,191.2 50.70,190.6 51.20,190.2 51.70,196.0 52.20,203.1 52.70,210.4 53.20,217.8 53.70,224.8 54.20,231.6 54.70,239.3 55.20,246.5 55.70,251.2 56.20,248.6 56.70,245.8 57.20,242.6 57.70,239.7 58.20,236.3 58.70,233.4 59.20,231.3 59.70,228.4 60.20,224.8 60.70,222.7 61.20,221.0 61.70,218.8 62.20,217.1 62.70,214.8 63.20,213.6 63.70,212.9 64.20,211.6 64.70,210.8 65.20,209.9 65.70,209.0 66.20,207.2 66.70,206.3 67.20,205.7 67.70,205.0 68.20,205.5 68.70,205.5 69.20,205.3 69.70,204.4 70.20,203.6 70.70,203.3 71.20,203.1 71.70,203.3 72.20,202.4 72.70,202.8 73.20,202.6 73.70,200.9 74.20,200.7 74.70,200.8 75.20,200.5 75.70,199.7 76.20,199.6 76.70,199.6 77.20,199.3 77.70,199.6 78.20,198.4 78.70,197.3 79.20,197.2 79.70,197.4 80.20,197.5 80.70,197.3 81.20,196.7 81.70,196.5 82.20,197.1 82.70,196.3 83.20,195.6 83.70,196.0 84.20,195.8 84.70,195.5 85.20,196.0 85.70,196.4 86.20,195.9 86.70,195.0 87.20,195.3 87.70,195.6 88.20,194.5 88.70,194.1 89.20,194.0 89.70,194.7 90.20,194.8 90.70,194.0 91.20,193.0 91.70,193.1 92.20,193.4 92.70,192.6 93.20,193.0 93.70,193.1 94.20,193.1 94.70,193.7 95.20,192.8 95.70,192.3 96.20,192.3 96.70,192.3 97.20,193.1 97.70,192.6 98.20,192.9 98.70,193.2 99.20,192.2 99.70,192.2 100.20,192.8 100.70,192.4 101.20,192.1 101.70,192.1 102.20,192.5 102.70,193.0 103.20,192.4 103.70,192.7 104.20,192.4 104.70,191.9 105.20,192.9 105.70,193.0 106.20,192.8 106.70,192.9 107.20,192.2 107.70,192.1 108.20,192.3 108.70,192.2 109.20,191.9 109.70,191.8 110.20,191.5 110.70,191.8 111.20,192.5 111.70,192.7 112.20,191.9 112.70,191.9 113.20,192.5 113.70,191.7 114.20,191.8 114.70,192.5 115.20,192.6 115.70,192.5 116.20,192.6 116.70,192.6 117.20,192.2 117.70,191.1 118.20,190.8 118.70,191.6 119.20,191.6 119.70,191.7 120.20,192.1 120.70,191.8 121.20,192.1 121.70,191.7 122.20,191.3 122.70,191.4 123.20,190.8 123.70,191.1 124.20,191.1 124.70,191.1 125.20,190.9 125.70,190.6 126.20,190.7 126.70,190.5 127.20,190.7 127.70,190.3 128.20,190.7 128.70,190.6 129.20,190.0 129.70,190.7 130.20,191.4 130.70,191.3 131.20,191.0 131.70,191.5 132.20,191.0 132.70,189.9 133.20,190.0 133.70,190.5 134.20,190.9 134.70,191.0 135.20,191.2 135.70,190.7 136.20,190.1 136.70,189.8 137.20,190.7 137.70,191.4 138.20,190.8 138.70,190.3 139.20,190.0 139.70,190.0 140.20,189.9 140.70,189.2 141.20,189.2 141.70,189.9 142.20,190.0 142.70,190.1 143.20,190.3 143.70,190.2 144.20,190.1 144.70,189.2 145.20,188.6 145.70,190.0 146.20,190.0 146.70,189.3 147.20,190.0 147.70,189.8 148.20,189.8 148.70,189.6 149.20,188.8 149.70,188.8 150.20,188.9 150.70,189.4 151.20,189.8 151.70,190.0 152.20,189.7 152.70,190.5 153.20,190.8 153.70,190.0 154.20,190.2 154.70,190.1 155.20,189.8 155.70,189.9 156.20,190.4 156.70,190.6 157.20,190.6 157.70,190.2 158.20,189.7 158.70,190.6 159.20,190.8 159.70,190.2 160.20,190.6" fill="none" stroke="#1bbf1b" stroke-width="1.5" stroke-linejoin="round"/>
<polyline points="31.20,192.6 31.70,191.6 32.20,191.0 32.70,191.3 33.20,191.4 33.70,190.7 34.20,190.8 34.70,190.7 35.20,190.8 35.70,192.0 36.20,192.1 36.70,191.5 37.20,191.6 37.70,191.8 38.20,191.0 38.70,191.0 39.20,191.2 39.70,191.6 40.20,192.2 40.70,191.5 41.20,191.1 41.70,192.3 42.20,192.6 42.70,192.6 43.20,192.1 43.70,192.4 44.20,192.4 44.70,192.3 45.20,193.3 45.70,193.8 46.20,193.4 46.70,193.0 47.20,192.5 47.70,191.9 48.20,192.5 48.70,192.5 49.20,192.0 49.70,191.4 50.20,191.4 50.70,191.9 51.20,191.1 51.70,194.4 52.20,201.7 52.70,208.3 53.20,214.1 53.70,220.1 54.20,226.4 54.70,233.2 55.20,240.3 55.70,246.6 56.20,251.5 56.70,249.3 57.20,246.4 57.70,244.9 58.20,242.8 58.70,240.1 59.20,238.1 59.70,236.4 60.20,233.8 60.70,231.8 61.20,230.5 61.70,228.6 62.20,227.0 62.70,225.2 63.20,223.1 63.70,221.8 64.20,220.7 64.70,219.1 65.20,217.8 65.70,216.1 66.20,214.8 66.70,214.1 67.20,212.9 67.70,212.5 68.20,212.6 68.70,212.0 69.20,210.4 69.70,209.8 70.20,209.1 70.70,207.7 71.20,207.2 71.70,206.9 72.20,206.5 72.70,205.7 73.20,204.9 73.70,204.8 74.20,204.2 74.70,203.4 75.20,202.5 75.70,202.3 76.20,202.0 76.70,201.3 77.20,200.8 77.70,200.3 78.20,199.8 78.70,199.5 79.20,199.8 79.70,199.4 80.20,199.2 80.70,198.9 81.20,198.8 81.70,198.3 82.20,196.9 82.70,196.9 83.20,197.2 83.70,196.5 84.20,196.6 84.70,196.8 85.20,196.6 85.70,196.2 86.20,195.9 86.70,195.9 87.20,196.2 87.70,195.7 88.20,194.9 88.70,195.1 89.20,194.4 89.70,193.6 90.20,194.8 90.70,194.6 91.20,193.9 91.70,194.1 92.20,193.5 92.70,193.0 93.20,192.8 93.70,193.7 94.20,193.5 94.70,193.4 95.20,194.0 95.70,194.4 96.20,194.1 96.70,193.8 97.20,194.2 97.70,193.7 98.20,192.8 98.70,193.3 99.20,193.4 99.70,192.7 100.20,193.4 100.70,194.0 101.20,193.4 101.70,193.0 102.20,193.2 102.70,193.6 103.20,194.5 103.70,193.5 104.20,192.9 104.70,192.5 105.20,192.2 105.70,192.8 106.20,193.5 106.70,193.9 107.20,193.0 107.70,192.7 108.20,192.8 108.70,193.0 109.20,193.1 109.70,193.3 110.20,193.8 110.70,193.8 111.20,192.9 111.70,192.1 112.20,192.2 112.70,193.1 113.20,193.3 113.70,192.7 114.20,192.8 114.70,192.6 115.20,192.1 115.70,192.7 116.20,192.9 116.70,192.5 117.20,192.7 117.70,192.6 118.20,192.2 118.70,192.2 119.20,192.5 119.70,192.7 120.20,192.0 120.70,191.8 121.20,192.4 121.70,193.1 122.20,192.4 122.70,191.8 123.20,192.0 123.70,192.1 124.20,192.3 124.70,192.5 125.20,192.5 125.70,191.8 126.20,191.5 126.70,191.9 127.20,192.2 127.70,192.9 128.20,193.4 128.70,192.2 129.20,191.8 129.70,191.8 130.20,191.2 130.70,191.9 131.20,192.7 131.70,192.1 132.20,192.5 132.70,192.6 133.20,191.6 133.70,192.2 134.20,192.7 134.70,192.5 135.20,192.5 135.70,192.7 136.20,192.8 136.70,192.7 137.20,192.2 137.70,191.9 138.20,192.9 138.70,193.2 139.20,193.3 139.70,194.0 140.20,193.8 140.70,193.6 141.20,194.5 141.70,194.8 142.20,194.8 142.70,195.1 143.20,194.9 143.70,194.4 144.20,194.0 144.70,193.7 145.20,194.3 145.70,194.9 146.20,194.8 146.70,195.0 147.20,194.8 147.70,194.9 148.20,195.0 148.70,194.5 149.20,194.4 149.70,194.3 150.20,195.1 150.70,194.5 151.20,193.6 151.70,194.5 152.20,194.6 152.70,194.0 153.20,194.3 153.70,193.9 154.20,192.8 154.70,193.3 155.20,193.1 155.70,192.0 156.20,192.7 156.70,193.7 157.20,193.6 157.70,193.1 158.20,192.8 158.70,192.6 159.20,193.0 159.70,193.5 160.20,193.1" fill="none" stroke="#ee2222" stroke-width="1.5" stroke-linejoin="round"/>
<polyline points="31.20,190.2 31.70,191.2 32.20,192.5 32.70,192.6 33.20,192.4 33.70,191.9 34.20,191.5 34.70,191.8 35.20,192.1 35.70,191.9 36.20,191.7 36.70,192.2 37.20,191.9 37.70,191.3 38.20,191.5 38.70,191.9 39.20,192.7 39.70,192.8 40.20,192.6 40.70,191.7 41.20,192.3 41.70,193.1 42.20,192.4 42.70,192.3 43.20,192.3 43.70,192.6 44.20,192.9 44.70,192.7 45.20,191.7 45.70,191.7 46.20,192.7 46.70,192.8 47.20,192.4 47.70,192.3 48.20,192.6 48.70,192.1 49.20,192.2 49.70,191.5 50.20,190.4 50.70,190.3 51.20,188.8 51.70,196.9 52.20,206.4 52.70,215.4 53.20,223.2 53.70,231.5 54.20,239.7 54.70,247.1 55.20,255.3 55.70,254.7 56.20,252.0 56.70,248.7 57.20,245.9 57.70,243.4 58.20,240.5 58.70,237.2 59.20,233.9 59.70,231.6 60.20,229.5 60.70,226.7 61.20,224.7 61.70,223.1 62.20,220.0 62.70,218.3 63.20,217.5 63.70,216.5 64.20,216.3 64.70,215.2 65.20,213.2 65.70,211.7 66.20,211.4 66.70,211.1 67.20,210.1 67.70,209.3 68.20,209.3 68.70,210.0 69.20,208.3 69.70,207.2 70.20,207.6 70.70,207.1 71.20,207.0 71.70,206.3 72.20,205.3 72.70,204.4 73.20,203.7 73.70,204.3 74.20,204.6 74.70,203.6 75.20,203.2 75.70,202.6 76.20,202.4 76.70,203.1 77.20,203.1 77.70,201.7 78.20,201.5 78.70,201.5 79.20,200.0 79.70,199.5 80.20,199.6 80.70,199.7 81.20,199.4 81.70,198.5 82.20,198.5 82.70,199.5 83.20,199.2 83.70,198.4 84.20,198.5 84.70,199.1 85.20,198.2 85.70,197.4 86.20,197.4 86.70,196.6 87.20,196.9 87.70,198.0 88.20,197.6 88.70,195.6 89.20,196.1 89.70,196.3 90.20,195.6 90.70,195.7 91.20,195.7 91.70,195.4 92.20,195.3 92.70,195.3 93.20,195.4 93.70,195.0 94.20,194.3 94.70,194.0 95.20,194.5 95.70,194.8 96.20,194.7 96.70,194.8 97.20,195.2 97.70,195.0 98.20,194.6 98.70,194.0 99.20,193.3 99.70,193.6 100.20,193.6 100.70,193.9 101.20,193.9 101.70,193.6 102.20,193.2 102.70,192.7 103.20,193.5 103.70,193.8 104.20,193.2 104.70,193.3 105.20,194.3 105.70,194.5 106.20,193.8 106.70,193.3 107.20,193.1 107.70,193.5 108.20,194.5 108.70,194.0 109.20,192.8 109.70,193.0 110.20,193.9 110.70,192.8 111.20,192.5 111.70,194.2 112.20,194.5 112.70,193.8 113.20,193.6 113.70,193.8 114.20,193.2 114.70,192.5 115.20,192.9 115.70,192.9 116.20,192.8 116.70,192.3 117.20,192.4 117.70,193.3 118.20,193.0 118.70,192.7 119.20,193.2 119.70,192.7 120.20,191.7 120.70,191.6 121.20,191.7 121.70,191.7 122.20,191.8 122.70,191.9 123.20,191.3 123.70,190.9 124.20,191.8 124.70,192.3 125.20,191.7 125.70,191.7 126.20,191.7 126.70,192.0 127.20,192.2 127.70,191.7 128.20,191.2 128.70,190.9 129.20,190.8 129.70,191.7 130.20,191.8 130.70,190.5 131.20,190.5 131.70,190.9 132.20,191.3 132.70,191.3 133.20,191.3 133.70,191.8 134.20,192.0 134.70,192.7 135.20,193.3 135.70,193.0 136.20,191.5 136.70,190.9 137.20,191.5 137.70,192.4 138.20,192.6 138.70,192.3 139.20,192.0 139.70,191.8 140.20,192.2 140.70,191.8 141.20,191.9 141.70,192.5 142.20,192.2 142.70,192.2 143.20,192.9 143.70,192.6 144.20,192.0 144.70,191.9 145.20,191.7 145.70,191.8 146.20,191.9 146.70,191.7 147.20,191.6 147.70,191.2 148.20,191.1 148.70,191.8 149.20,191.7 149.70,191.3 150.20,192.4 150.70,193.0 151.20,192.2 151.70,192.0 152.20,192.0 152.70,192.4 153.20,192.4 153.70,191.8 154.20,192.5 154.70,192.2 155.20,192.2 155.70,192.2 156.20,191.8 156.70,192.0 157.20,191.9 157.70,192.0 158.20,192.0 158.70,191.6 159.20,191.9 159.70,192.6 160.20,192.7" fill="none" stroke="#2222ee" stroke-width="1.6" stroke-linejoin="round"/>
<line x1="98.60" y1="240.50" x2="113.80" y2="240.50" stroke="#44cc44" stroke-width="1.1"/>
<text x="115.70" y="243.02" font-size="7" fill="#111">K<tspan font-size="4.20" dy="-3.85">+</tspan></text>
<line x1="98.60" y1="249.50" x2="113.80" y2="249.50" stroke="#ff4444" stroke-width="1.1"/>
<text x="115.70" y="252.02" font-size="7" fill="#111">Rb<tspan font-size="4.20" dy="-3.85">+</tspan></text>
<line x1="98.60" y1="259.30" x2="113.80" y2="259.30" stroke="#4444ff" stroke-width="1.1"/>
<text x="115.70" y="261.82" font-size="7" fill="#111">Cs<tspan font-size="4.20" dy="-3.85">+</tspan></text>
<text x="270.30" y="172.07" font-size="10.2" text-anchor="middle" fill="#111">Control</text>
<text x="0" y="0" font-size="8" text-anchor="middle" fill="#111" transform="translate(184.13 218.40) rotate(-90)">current [nA]</text>
<text x="265.00" y="295.18" font-size="8" text-anchor="middle" fill="#111">time [s]</text>
<line x1="200.50" y1="170.60" x2="200.50" y2="274.70" stroke="#6a6a6a" stroke-width="1.0"/>
<line x1="198.50" y1="170.60" x2="200.50" y2="170.60" stroke="#6a6a6a" stroke-width="1.0"/>
<text x="197.00" y="173.23" font-size="7.3" text-anchor="end" fill="#111">1</text>
<line x1="198.50" y1="212.40" x2="200.50" y2="212.40" stroke="#6a6a6a" stroke-width="1.0"/>
<text x="197.00" y="215.03" font-size="7.3" text-anchor="end" fill="#111">0</text>
<line x1="198.50" y1="254.20" x2="200.50" y2="254.20" stroke="#6a6a6a" stroke-width="1.0"/>
<text x="197.00" y="256.83" font-size="7.3" text-anchor="end" fill="#111">-1</text>
<line x1="199.30" y1="191.50" x2="200.50" y2="191.50" stroke="#6a6a6a" stroke-width="1.0"/>
<line x1="199.30" y1="233.30" x2="200.50" y2="233.30" stroke="#6a6a6a" stroke-width="1.0"/>
<line x1="200.50" y1="274.70" x2="329.60" y2="274.70" stroke="#6a6a6a" stroke-width="1.0"/>
<line x1="218.30" y1="274.70" x2="218.30" y2="276.70" stroke="#6a6a6a" stroke-width="1.0"/>
<text x="218.30" y="283.83" font-size="7.3" text-anchor="middle" fill="#111">1.1</text>
<line x1="255.40" y1="274.70" x2="255.40" y2="276.70" stroke="#6a6a6a" stroke-width="1.0"/>
<text x="255.40" y="283.83" font-size="7.3" text-anchor="middle" fill="#111">1.2</text>
<line x1="292.50" y1="274.70" x2="292.50" y2="276.70" stroke="#6a6a6a" stroke-width="1.0"/>
<text x="292.50" y="283.83" font-size="7.3" text-anchor="middle" fill="#111">1.3</text>
<line x1="329.60" y1="274.70" x2="329.60" y2="276.70" stroke="#6a6a6a" stroke-width="1.0"/>
<text x="329.60" y="283.83" font-size="7.3" text-anchor="middle" fill="#111">1.4</text>
<line x1="236.85" y1="274.70" x2="236.85" y2="275.90" stroke="#6a6a6a" stroke-width="1.0"/>
<line x1="273.95" y1="274.70" x2="273.95" y2="275.90" stroke="#6a6a6a" stroke-width="1.0"/>
<line x1="311.05" y1="274.70" x2="311.05" y2="275.90" stroke="#6a6a6a" stroke-width="1.0"/>
<polyline points="200.50,213.5 201.00,212.6 201.50,212.6 202.00,213.5 202.50,212.9 203.00,212.8 203.50,213.5 204.00,213.0 204.50,212.0 205.00,212.1 205.50,213.5 206.00,213.7 206.50,212.4 207.00,212.2 207.50,212.3 208.00,212.3 208.50,212.7 209.00,211.9 209.50,212.0 210.00,213.4 210.50,213.2 211.00,212.6 211.50,213.1 212.00,212.8 212.50,212.0 213.00,211.9 213.50,212.3 214.00,212.9 214.50,213.0 215.00,213.0 215.50,213.4 216.00,213.4 216.50,212.8 217.00,212.6 217.50,213.3 218.00,213.0 218.50,212.5 219.00,212.7 219.50,212.8 220.00,212.6 220.50,212.2 221.00,213.4 221.50,209.3 222.00,205.6 222.50,204.1 223.00,203.4 223.50,202.2 224.00,201.0 224.50,201.9 225.00,202.6 225.50,203.8 226.00,204.8 226.50,205.0 227.00,206.2 227.50,208.2 228.00,209.3 228.50,209.9 229.00,210.7 229.50,211.9 230.00,212.0 230.50,212.0 231.00,213.6 231.50,214.8 232.00,215.8 232.50,217.7 233.00,217.9 233.50,217.3 234.00,217.9 234.50,218.8 235.00,218.7 235.50,219.3 236.00,220.4 236.50,220.6 237.00,220.4 237.50,220.7 238.00,221.3 238.50,220.7 239.00,221.3 239.50,221.7 240.00,221.3 240.50,221.4 241.00,221.5 241.50,222.3 242.00,222.0 242.50,221.1 243.00,221.1 243.50,221.1 244.00,220.9 244.50,221.1 245.00,221.2 245.50,221.6 246.00,221.1 246.50,220.6 247.00,220.7 247.50,220.9 248.00,221.8 248.50,221.3 249.00,220.8 249.50,220.4 250.00,219.2 250.50,218.8 251.00,218.7 251.50,218.6 252.00,218.9 252.50,219.5 253.00,219.7 253.50,219.3 254.00,218.8 254.50,218.3 255.00,218.4 255.50,218.5 256.00,218.5 256.50,218.5 257.00,218.2 257.50,217.3 258.00,216.9 258.50,217.2 259.00,218.0 259.50,218.0 260.00,217.6 260.50,218.1 261.00,217.9 261.50,217.1 262.00,216.8 262.50,216.5 263.00,216.6 263.50,217.2 264.00,217.2 264.50,216.9 265.00,216.9 265.50,217.2 266.00,216.6 266.50,215.9 267.00,216.3 267.50,216.6 268.00,215.5 268.50,214.8 269.00,215.5 269.50,215.3 270.00,215.6 270.50,215.9 271.00,215.5 271.50,214.8 272.00,214.4 272.50,214.6 273.00,215.1 273.50,215.0 274.00,214.1 274.50,214.0 275.00,214.4 275.50,215.4 276.00,216.4 276.50,215.6 277.00,215.0 277.50,215.6 278.00,215.7 278.50,215.1 279.00,214.2 279.50,214.0 280.00,213.7 280.50,213.9 281.00,214.8 281.50,214.0 282.00,213.7 282.50,214.4 283.00,214.7 283.50,215.1 284.00,214.8 284.50,214.1 285.00,213.6 285.50,214.3 286.00,214.2 286.50,213.7 287.00,214.5 287.50,214.5 288.00,213.5 288.50,213.4 289.00,214.0 289.50,214.1 290.00,214.2 290.50,214.7 291.00,214.1 291.50,213.5 292.00,213.6 292.50,213.4 293.00,213.5 293.50,213.9 294.00,214.0 294.50,213.8 295.00,213.3 295.50,214.1 296.00,214.1 296.50,213.2 297.00,213.3 297.50,213.4 298.00,213.3 298.50,213.4 299.00,213.4 299.50,213.3 300.00,213.6 300.50,214.0 301.00,214.0 301.50,213.5 302.00,213.5 302.50,213.7 303.00,213.5 303.50,213.0 304.00,213.2 304.50,213.7 305.00,214.1 305.50,214.3 306.00,213.4 306.50,212.7 307.00,213.4 307.50,213.6 308.00,213.4 308.50,213.6 309.00,214.1 309.50,214.2 310.00,214.0 310.50,214.4 311.00,213.7 311.50,213.1 312.00,213.8 312.50,213.9 313.00,213.1 313.50,213.5 314.00,214.6 314.50,214.2 315.00,213.8 315.50,213.8 316.00,213.7 316.50,213.7 317.00,213.7 317.50,213.9 318.00,213.4 318.50,213.3 319.00,213.2 319.50,212.7 320.00,212.5 320.50,212.9 321.00,212.8 321.50,213.0 322.00,213.5 322.50,213.5 323.00,213.2 323.50,213.0 324.00,213.2 324.50,213.6 325.00,213.3 325.50,212.7 326.00,212.9 326.50,213.0 327.00,212.8 327.50,212.6 328.00,213.2 328.50,213.2 329.00,213.2 329.50,214.1" fill="none" stroke="#1bbf1b" stroke-width="1.45" stroke-linejoin="round"/>
<polyline points="200.50,213.7 201.00,212.7 201.50,212.5 202.00,213.3 202.50,213.2 203.00,212.5 203.50,212.6 204.00,212.8 204.50,213.0 205.00,213.7 205.50,214.1 206.00,213.6 206.50,212.3 207.00,212.7 207.50,213.6 208.00,213.1 208.50,213.3 209.00,213.6 209.50,212.7 210.00,212.4 210.50,212.7 211.00,212.8 211.50,213.0 212.00,212.8 212.50,212.7 213.00,213.1 213.50,213.1 214.00,212.9 214.50,212.8 215.00,212.8 215.50,212.3 216.00,212.4 216.50,212.7 217.00,212.7 217.50,212.5 218.00,212.8 218.50,213.4 219.00,212.6 219.50,212.6 220.00,212.9 220.50,213.4 221.00,213.8 221.50,202.7 222.00,197.5 222.50,196.1 223.00,194.8 223.50,193.2 224.00,191.3 224.50,190.4 225.00,190.0 225.50,190.6 226.00,190.1 226.50,188.9 227.00,188.3 227.50,187.6 228.00,187.4 228.50,187.8 229.00,188.1 229.50,188.8 230.00,188.9 230.50,189.6 231.00,189.7 231.50,190.4 232.00,191.3 232.50,192.8 233.00,194.8 233.50,195.4 234.00,196.2 234.50,197.0 235.00,197.4 235.50,198.1 236.00,198.6 236.50,199.8 237.00,200.9 237.50,201.7 238.00,203.1 238.50,204.3 239.00,204.5 239.50,205.4 240.00,206.7 240.50,207.7 241.00,208.0 241.50,208.9 242.00,210.4 242.50,210.0 243.00,210.0 243.50,211.0 244.00,210.8 244.50,211.1 245.00,212.3 245.50,213.0 246.00,213.5 246.50,212.9 247.00,212.2 247.50,212.8 248.00,213.2 248.50,213.2 249.00,213.0 249.50,212.9 250.00,212.9 250.50,213.2 251.00,212.5 251.50,213.0 252.00,213.8 252.50,212.8 253.00,213.3 253.50,213.3 254.00,213.3 254.50,213.7 255.00,213.8 255.50,214.2 256.00,214.5 256.50,214.1 257.00,213.5 257.50,213.7 258.00,213.4 258.50,213.6 259.00,214.2 259.50,213.5 260.00,213.9 260.50,214.9 261.00,214.0 261.50,213.8 262.00,214.7 262.50,214.8 263.00,214.1 263.50,213.3 264.00,213.7 264.50,214.0 265.00,214.0 265.50,214.2 266.00,214.3 266.50,214.2 267.00,213.9 267.50,215.1 268.00,215.1 268.50,214.3 269.00,214.4 269.50,214.3 270.00,213.8 270.50,213.9 271.00,214.2 271.50,214.3 272.00,215.0 272.50,214.7 273.00,214.3 273.50,213.9 274.00,213.6 274.50,214.5 275.00,214.4 275.50,213.7 276.00,213.7 276.50,213.9 277.00,213.7 277.50,213.6 278.00,214.4 278.50,214.2 279.00,213.4 279.50,213.4 280.00,214.0 280.50,214.1 281.00,214.1 281.50,214.2 282.00,213.8 282.50,213.2 283.00,213.6 283.50,214.3 284.00,214.0 284.50,213.7 285.00,213.4 285.50,213.0 286.00,213.5 286.50,214.0 287.00,213.6 287.50,213.3 288.00,213.4 288.50,213.6 289.00,214.1 289.50,214.4 290.00,213.6 290.50,213.0 291.00,213.1 291.50,213.2 292.00,213.3 292.50,213.7 293.00,213.9 293.50,213.9 294.00,213.6 294.50,213.7 295.00,213.4 295.50,213.2 296.00,213.8 296.50,213.9 297.00,213.2 297.50,212.7 298.00,212.6 298.50,213.6 299.00,213.6 299.50,212.9 300.00,214.1 300.50,214.5 301.00,214.3 301.50,213.8 302.00,213.6 302.50,214.7 303.00,214.5 303.50,213.6 304.00,213.5 304.50,213.3 305.00,213.6 305.50,214.0 306.00,213.6 306.50,212.6 307.00,213.0 307.50,213.5 308.00,214.0 308.50,214.1 309.00,213.4 309.50,213.4 310.00,214.0 310.50,213.9 311.00,213.4 311.50,213.5 312.00,213.5 312.50,212.6 313.00,213.2 313.50,213.4 314.00,212.8 314.50,213.1 315.00,213.1 315.50,213.1 316.00,212.8 316.50,213.0 317.00,213.5 317.50,213.4 318.00,213.7 318.50,214.1 319.00,214.1 319.50,214.4 320.00,214.1 320.50,212.9 321.00,212.8 321.50,213.4 322.00,213.3 322.50,213.1 323.00,212.8 323.50,213.2 324.00,213.9 324.50,213.2 325.00,213.1 325.50,213.4 326.00,213.1 326.50,213.3 327.00,213.5 327.50,213.0 328.00,213.1 328.50,212.6 329.00,212.3 329.50,212.9" fill="none" stroke="#ee2222" stroke-width="1.45" stroke-linejoin="round"/>
<polyline points="200.50,212.5 201.00,213.0 201.50,213.6 202.00,213.3 202.50,213.2 203.00,213.6 203.50,214.0 204.00,213.5 204.50,213.3 205.00,213.9 205.50,213.8 206.00,213.2 206.50,212.9 207.00,213.1 207.50,213.0 208.00,213.8 208.50,214.0 209.00,213.4 209.50,213.7 210.00,213.8 210.50,213.6 211.00,212.9 211.50,213.6 212.00,214.0 212.50,213.5 213.00,213.6 213.50,214.0 214.00,214.2 214.50,214.2 215.00,214.2 215.50,213.9 216.00,213.7 216.50,213.4 217.00,212.7 217.50,212.8 218.00,213.1 218.50,214.1 219.00,215.0 219.50,214.5 220.00,213.8 220.50,214.1 221.00,213.7 221.50,215.3 222.00,220.1 222.50,224.7 223.00,229.4 223.50,234.3 224.00,239.1 224.50,243.3 225.00,246.9 225.50,250.7 226.00,254.1 226.50,257.7 227.00,261.1 227.50,263.9 228.00,262.9 228.50,262.0 229.00,260.2 229.50,258.0 230.00,257.3 230.50,256.0 231.00,254.6 231.50,253.4 232.00,251.6 232.50,249.9 233.00,248.7 233.50,247.7 234.00,246.4 234.50,245.2 235.00,244.3 235.50,243.4 236.00,241.6 236.50,240.3 237.00,239.9 237.50,239.1 238.00,238.0 238.50,236.6 239.00,235.2 239.50,234.4 240.00,234.5 240.50,234.0 241.00,233.5 241.50,233.6 242.00,232.3 242.50,231.5 243.00,231.2 243.50,231.2 244.00,231.0 244.50,229.6 245.00,228.9 245.50,228.2 246.00,227.4 246.50,227.5 247.00,227.3 247.50,227.1 248.00,226.4 248.50,225.4 249.00,225.3 249.50,225.4 250.00,225.0 250.50,225.8 251.00,226.1 251.50,225.0 252.00,223.9 252.50,223.2 253.00,223.6 253.50,224.1 254.00,223.6 254.50,223.0 255.00,222.9 255.50,222.9 256.00,221.9 256.50,221.4 257.00,221.9 257.50,221.9 258.00,221.7 258.50,220.9 259.00,220.4 259.50,220.1 260.00,220.2 260.50,220.6 261.00,220.6 261.50,220.0 262.00,219.3 262.50,220.0 263.00,220.3 263.50,220.2 264.00,220.1 264.50,218.9 265.00,218.9 265.50,219.6 266.00,219.0 266.50,217.8 267.00,218.0 267.50,218.5 268.00,218.2 268.50,217.2 269.00,217.1 269.50,216.9 270.00,216.3 270.50,217.4 271.00,217.0 271.50,216.0 272.00,216.4 272.50,217.5 273.00,218.2 273.50,217.3 274.00,217.1 274.50,217.4 275.00,217.1 275.50,216.9 276.00,216.5 276.50,216.6 277.00,217.2 277.50,217.8 278.00,217.6 278.50,215.8 279.00,215.0 279.50,215.9 280.00,216.3 280.50,215.5 281.00,215.3 281.50,215.8 282.00,215.7 282.50,215.8 283.00,216.0 283.50,216.5 284.00,216.4 284.50,215.4 285.00,214.8 285.50,214.9 286.00,215.2 286.50,215.2 287.00,215.1 287.50,214.9 288.00,215.3 288.50,215.8 289.00,215.8 289.50,215.5 290.00,215.2 290.50,214.9 291.00,214.4 291.50,214.5 292.00,215.0 292.50,215.1 293.00,214.5 293.50,214.5 294.00,215.0 294.50,215.0 295.00,214.6 295.50,214.5 296.00,214.6 296.50,214.4 297.00,214.5 297.50,214.8 298.00,215.4 298.50,215.6 299.00,215.2 299.50,214.5 300.00,214.1 300.50,214.1 301.00,214.6 301.50,213.7 302.00,213.4 302.50,213.6 303.00,213.5 303.50,214.6 304.00,214.2 304.50,213.0 305.00,213.7 305.50,214.9 306.00,214.6 306.50,214.5 307.00,214.1 307.50,214.0 308.00,214.9 308.50,214.7 309.00,214.2 309.50,214.4 310.00,214.7 310.50,214.0 311.00,214.0 311.50,214.5 312.00,214.1 312.50,214.3 313.00,214.5 313.50,214.3 314.00,213.8 314.50,213.8 315.00,213.6 315.50,213.2 316.00,213.0 316.50,212.5 317.00,213.2 317.50,213.7 318.00,213.6 318.50,213.8 319.00,213.9 319.50,213.3 320.00,213.2 320.50,213.5 321.00,213.3 321.50,213.2 322.00,213.3 322.50,213.1 323.00,213.1 323.50,213.4 324.00,214.2 324.50,213.8 325.00,213.2 325.50,213.0 326.00,213.4 326.50,213.7 327.00,213.2 327.50,213.7 328.00,214.0 328.50,213.1 329.00,212.9 329.50,213.3" fill="none" stroke="#2222ee" stroke-width="1.45" stroke-linejoin="round"/>
<line x1="276.70" y1="239.80" x2="290.90" y2="239.80" stroke="#44cc44" stroke-width="1.1"/>
<text x="293.00" y="242.32" font-size="7" fill="#111">Na<tspan font-size="4.20" dy="-3.85">+</tspan></text>
<line x1="276.70" y1="249.40" x2="290.90" y2="249.40" stroke="#ff4444" stroke-width="1.1"/>
<text x="293.00" y="251.92" font-size="7" fill="#111">Li<tspan font-size="4.20" dy="-3.85">+</tspan></text>
<line x1="276.70" y1="258.60" x2="290.90" y2="258.60" stroke="#4444ff" stroke-width="1.1"/>
<text x="293.00" y="261.12" font-size="7" fill="#111">choline<tspan font-size="4.20" dy="-3.85">+</tspan></text>
<text x="339.30" y="159.30" font-size="17.5" text-anchor="start" fill="#111">D</text>
<text x="0" y="0" font-size="8.4" text-anchor="middle" fill="#111" transform="translate(362.12 220.00) rotate(-90)">current [nA]</text>
<line x1="379.10" y1="154.40" x2="379.10" y2="286.60" stroke="#6a6a6a" stroke-width="1.0"/>
<line x1="377.10" y1="154.50" x2="379.10" y2="154.50" stroke="#6a6a6a" stroke-width="1.0"/>
<text x="374.50" y="157.45" font-size="8.2" text-anchor="end" fill="#111">25</text>
<line x1="377.10" y1="176.50" x2="379.10" y2="176.50" stroke="#6a6a6a" stroke-width="1.0"/>
<text x="374.50" y="179.45" font-size="8.2" text-anchor="end" fill="#111">20</text>
<line x1="377.10" y1="198.50" x2="379.10" y2="198.50" stroke="#6a6a6a" stroke-width="1.0"/>
<text x="374.50" y="201.45" font-size="8.2" text-anchor="end" fill="#111">15</text>
<line x1="377.10" y1="220.50" x2="379.10" y2="220.50" stroke="#6a6a6a" stroke-width="1.0"/>
<text x="374.50" y="223.45" font-size="8.2" text-anchor="end" fill="#111">10</text>
<line x1="377.10" y1="242.50" x2="379.10" y2="242.50" stroke="#6a6a6a" stroke-width="1.0"/>
<text x="374.50" y="245.45" font-size="8.2" text-anchor="end" fill="#111">5</text>
<line x1="377.10" y1="264.50" x2="379.10" y2="264.50" stroke="#6a6a6a" stroke-width="1.0"/>
<text x="374.50" y="267.45" font-size="8.2" text-anchor="end" fill="#111">0</text>
<line x1="377.10" y1="286.50" x2="379.10" y2="286.50" stroke="#6a6a6a" stroke-width="1.0"/>
<text x="374.50" y="289.45" font-size="8.2" text-anchor="end" fill="#111">-5</text>
<line x1="377.90" y1="165.50" x2="379.10" y2="165.50" stroke="#6a6a6a" stroke-width="1.0"/>
<line x1="377.90" y1="187.50" x2="379.10" y2="187.50" stroke="#6a6a6a" stroke-width="1.0"/>
<line x1="377.90" y1="209.50" x2="379.10" y2="209.50" stroke="#6a6a6a" stroke-width="1.0"/>
<line x1="377.90" y1="231.50" x2="379.10" y2="231.50" stroke="#6a6a6a" stroke-width="1.0"/>
<line x1="377.90" y1="253.50" x2="379.10" y2="253.50" stroke="#6a6a6a" stroke-width="1.0"/>
<line x1="377.90" y1="275.50" x2="379.10" y2="275.50" stroke="#6a6a6a" stroke-width="1.0"/>
<line x1="379.10" y1="264.50" x2="543.80" y2="264.50" stroke="#aaa" stroke-width="0.8"/>
<line x1="379.10" y1="286.60" x2="543.80" y2="286.60" stroke="#6a6a6a" stroke-width="1.0"/>
<line x1="392.90" y1="286.60" x2="392.90" y2="288.60" stroke="#6a6a6a" stroke-width="1.0"/>
<line x1="420.25" y1="286.60" x2="420.25" y2="288.60" stroke="#6a6a6a" stroke-width="1.0"/>
<line x1="447.60" y1="286.60" x2="447.60" y2="288.60" stroke="#6a6a6a" stroke-width="1.0"/>
<line x1="474.95" y1="286.60" x2="474.95" y2="288.60" stroke="#6a6a6a" stroke-width="1.0"/>
<line x1="502.30" y1="286.60" x2="502.30" y2="288.60" stroke="#6a6a6a" stroke-width="1.0"/>
<line x1="529.65" y1="286.60" x2="529.65" y2="288.60" stroke="#6a6a6a" stroke-width="1.0"/>
<line x1="406.57" y1="286.60" x2="406.57" y2="287.80" stroke="#6a6a6a" stroke-width="1.0"/>
<line x1="433.92" y1="286.60" x2="433.92" y2="287.80" stroke="#6a6a6a" stroke-width="1.0"/>
<line x1="461.27" y1="286.60" x2="461.27" y2="287.80" stroke="#6a6a6a" stroke-width="1.0"/>
<line x1="488.62" y1="286.60" x2="488.62" y2="287.80" stroke="#6a6a6a" stroke-width="1.0"/>
<line x1="515.97" y1="286.60" x2="515.97" y2="287.80" stroke="#6a6a6a" stroke-width="1.0"/>
<text x="392.90" y="298.26" font-size="8.5" text-anchor="middle" fill="#111">Li</text>
<text x="420.25" y="298.26" font-size="8.5" text-anchor="middle" fill="#111">Na</text>
<text x="447.60" y="298.26" font-size="8.5" text-anchor="middle" fill="#111">K</text>
<text x="474.95" y="298.26" font-size="8.5" text-anchor="middle" fill="#111">Rb</text>
<text x="502.30" y="298.26" font-size="8.5" text-anchor="middle" fill="#111">Cs</text>
<text x="529.65" y="298.26" font-size="8.5" text-anchor="middle" fill="#111">choline</text>
<rect x="382.00" y="262.08" width="10.90" height="2.42" fill="#e5103f" stroke="#333" stroke-width="0.5"/>
<line x1="387.45" y1="261.42" x2="387.45" y2="262.74" stroke="#222" stroke-width="0.7"/>
<line x1="385.95" y1="261.42" x2="388.95" y2="261.42" stroke="#222" stroke-width="0.7"/>
<line x1="385.95" y1="262.74" x2="388.95" y2="262.74" stroke="#222" stroke-width="0.7"/>
<rect x="392.90" y="264.50" width="10.90" height="3.08" fill="#0a30f0" stroke="#333" stroke-width="0.5"/>
<line x1="398.35" y1="267.36" x2="398.35" y2="267.80" stroke="#222" stroke-width="0.7"/>
<line x1="396.85" y1="267.36" x2="399.85" y2="267.36" stroke="#222" stroke-width="0.7"/>
<line x1="396.85" y1="267.80" x2="399.85" y2="267.80" stroke="#222" stroke-width="0.7"/>
<rect x="409.35" y="263.18" width="10.90" height="1.32" fill="#e5103f" stroke="#333" stroke-width="0.5"/>
<line x1="414.80" y1="262.52" x2="414.80" y2="263.84" stroke="#222" stroke-width="0.7"/>
<line x1="413.30" y1="262.52" x2="416.30" y2="262.52" stroke="#222" stroke-width="0.7"/>
<line x1="413.30" y1="263.84" x2="416.30" y2="263.84" stroke="#222" stroke-width="0.7"/>
<rect x="420.25" y="264.50" width="10.90" height="3.08" fill="#0a30f0" stroke="#333" stroke-width="0.5"/>
<line x1="425.70" y1="267.14" x2="425.70" y2="268.02" stroke="#222" stroke-width="0.7"/>
<line x1="424.20" y1="267.14" x2="427.20" y2="267.14" stroke="#222" stroke-width="0.7"/>
<line x1="424.20" y1="268.02" x2="427.20" y2="268.02" stroke="#222" stroke-width="0.7"/>
<rect x="436.70" y="264.50" width="10.90" height="4.84" fill="#e5103f" stroke="#333" stroke-width="0.5"/>
<line x1="442.15" y1="267.80" x2="442.15" y2="270.88" stroke="#222" stroke-width="0.7"/>
<line x1="440.65" y1="267.80" x2="443.65" y2="267.80" stroke="#222" stroke-width="0.7"/>
<line x1="440.65" y1="270.88" x2="443.65" y2="270.88" stroke="#222" stroke-width="0.7"/>
<rect x="447.60" y="184.42" width="10.90" height="80.08" fill="#0a30f0" stroke="#333" stroke-width="0.5"/>
<line x1="453.05" y1="180.02" x2="453.05" y2="188.82" stroke="#222" stroke-width="0.7"/>
<line x1="451.55" y1="180.02" x2="454.55" y2="180.02" stroke="#222" stroke-width="0.7"/>
<line x1="451.55" y1="188.82" x2="454.55" y2="188.82" stroke="#222" stroke-width="0.7"/>
<rect x="464.05" y="264.50" width="10.90" height="4.84" fill="#e5103f" stroke="#333" stroke-width="0.5"/>
<line x1="469.50" y1="267.14" x2="469.50" y2="271.54" stroke="#222" stroke-width="0.7"/>
<line x1="468.00" y1="267.14" x2="471.00" y2="267.14" stroke="#222" stroke-width="0.7"/>
<line x1="468.00" y1="271.54" x2="471.00" y2="271.54" stroke="#222" stroke-width="0.7"/>
<rect x="474.95" y="167.70" width="10.90" height="96.80" fill="#0a30f0" stroke="#333" stroke-width="0.5"/>
<line x1="480.40" y1="165.94" x2="480.40" y2="169.46" stroke="#222" stroke-width="0.7"/>
<line x1="478.90" y1="165.94" x2="481.90" y2="165.94" stroke="#222" stroke-width="0.7"/>
<line x1="478.90" y1="169.46" x2="481.90" y2="169.46" stroke="#222" stroke-width="0.7"/>
<rect x="491.40" y="264.50" width="10.90" height="4.40" fill="#e5103f" stroke="#333" stroke-width="0.5"/>
<line x1="496.85" y1="266.70" x2="496.85" y2="271.10" stroke="#222" stroke-width="0.7"/>
<line x1="495.35" y1="266.70" x2="498.35" y2="266.70" stroke="#222" stroke-width="0.7"/>
<line x1="495.35" y1="271.10" x2="498.35" y2="271.10" stroke="#222" stroke-width="0.7"/>
<rect x="502.30" y="169.90" width="10.90" height="94.60" fill="#0a30f0" stroke="#333" stroke-width="0.5"/>
<line x1="507.75" y1="167.26" x2="507.75" y2="172.54" stroke="#222" stroke-width="0.7"/>
<line x1="506.25" y1="167.26" x2="509.25" y2="167.26" stroke="#222" stroke-width="0.7"/>
<line x1="506.25" y1="172.54" x2="509.25" y2="172.54" stroke="#222" stroke-width="0.7"/>
<rect x="518.75" y="264.50" width="10.90" height="3.96" fill="#e5103f" stroke="#333" stroke-width="0.5"/>
<line x1="524.20" y1="267.80" x2="524.20" y2="269.12" stroke="#222" stroke-width="0.7"/>
<line x1="522.70" y1="267.80" x2="525.70" y2="267.80" stroke="#222" stroke-width="0.7"/>
<line x1="522.70" y1="269.12" x2="525.70" y2="269.12" stroke="#222" stroke-width="0.7"/>
<rect x="529.65" y="264.50" width="10.90" height="6.38" fill="#0a30f0" stroke="#333" stroke-width="0.5"/>
<line x1="535.10" y1="270.44" x2="535.10" y2="271.32" stroke="#222" stroke-width="0.7"/>
<line x1="533.60" y1="270.44" x2="536.60" y2="270.44" stroke="#222" stroke-width="0.7"/>
<line x1="533.60" y1="271.32" x2="536.60" y2="271.32" stroke="#222" stroke-width="0.7"/>
<rect x="388.10" y="155.65" width="14.80" height="7.40" fill="#0a30f0" stroke="#333" stroke-width="0.6"/>
<text x="405.30" y="161.83" font-size="6.9" text-anchor="start" fill="#111">TMEM175</text>
<rect x="388.10" y="163.55" width="14.80" height="7.60" fill="#e5103f" stroke="#333" stroke-width="0.6"/>
<text x="405.30" y="169.83" font-size="6.9" text-anchor="start" fill="#111">Control</text>
<text x="4.20" y="330.48" font-size="18" text-anchor="start" fill="#111">E</text>
<text x="0" y="0" font-size="7.8" text-anchor="middle" fill="#111" transform="translate(19.31 390.90) rotate(-90)">current [nA]</text>
<line x1="31.00" y1="339.20" x2="31.00" y2="443.30" stroke="#6a6a6a" stroke-width="1.0"/>
<line x1="29.00" y1="339.20" x2="31.00" y2="339.20" stroke="#6a6a6a" stroke-width="1.0"/>
<text x="27.80" y="342.01" font-size="7.8" text-anchor="end" fill="#111">4</text>
<line x1="29.00" y1="356.55" x2="31.00" y2="356.55" stroke="#6a6a6a" stroke-width="1.0"/>
<text x="27.80" y="359.36" font-size="7.8" text-anchor="end" fill="#111">3</text>
<line x1="29.00" y1="373.90" x2="31.00" y2="373.90" stroke="#6a6a6a" stroke-width="1.0"/>
<text x="27.80" y="376.71" font-size="7.8" text-anchor="end" fill="#111">2</text>
<line x1="29.00" y1="391.25" x2="31.00" y2="391.25" stroke="#6a6a6a" stroke-width="1.0"/>
<text x="27.80" y="394.06" font-size="7.8" text-anchor="end" fill="#111">1</text>
<line x1="29.00" y1="408.60" x2="31.00" y2="408.60" stroke="#6a6a6a" stroke-width="1.0"/>
<text x="27.80" y="411.41" font-size="7.8" text-anchor="end" fill="#111">0</text>
<line x1="29.00" y1="425.95" x2="31.00" y2="425.95" stroke="#6a6a6a" stroke-width="1.0"/>
<text x="27.80" y="428.76" font-size="7.8" text-anchor="end" fill="#111">-1</text>
<line x1="29.00" y1="443.30" x2="31.00" y2="443.30" stroke="#6a6a6a" stroke-width="1.0"/>
<text x="27.80" y="446.11" font-size="7.8" text-anchor="end" fill="#111">-2</text>
<line x1="29.80" y1="347.88" x2="31.00" y2="347.88" stroke="#6a6a6a" stroke-width="1.0"/>
<line x1="29.80" y1="365.23" x2="31.00" y2="365.23" stroke="#6a6a6a" stroke-width="1.0"/>
<line x1="29.80" y1="382.58" x2="31.00" y2="382.58" stroke="#6a6a6a" stroke-width="1.0"/>
<line x1="29.80" y1="399.93" x2="31.00" y2="399.93" stroke="#6a6a6a" stroke-width="1.0"/>
<line x1="29.80" y1="417.28" x2="31.00" y2="417.28" stroke="#6a6a6a" stroke-width="1.0"/>
<line x1="29.80" y1="434.62" x2="31.00" y2="434.62" stroke="#6a6a6a" stroke-width="1.0"/>
<line x1="31.20" y1="408.60" x2="161.00" y2="408.60" stroke="#aaa" stroke-width="0.8"/>
<line x1="31.20" y1="443.30" x2="161.00" y2="443.30" stroke="#6a6a6a" stroke-width="1.0"/>
<line x1="42.30" y1="443.30" x2="42.30" y2="445.30" stroke="#6a6a6a" stroke-width="1.0"/>
<line x1="63.80" y1="443.30" x2="63.80" y2="445.30" stroke="#6a6a6a" stroke-width="1.0"/>
<line x1="85.30" y1="443.30" x2="85.30" y2="445.30" stroke="#6a6a6a" stroke-width="1.0"/>
<line x1="106.80" y1="443.30" x2="106.80" y2="445.30" stroke="#6a6a6a" stroke-width="1.0"/>
<line x1="128.30" y1="443.30" x2="128.30" y2="445.30" stroke="#6a6a6a" stroke-width="1.0"/>
<line x1="149.80" y1="443.30" x2="149.80" y2="445.30" stroke="#6a6a6a" stroke-width="1.0"/>
<line x1="53.05" y1="443.30" x2="53.05" y2="444.50" stroke="#6a6a6a" stroke-width="1.0"/>
<line x1="74.55" y1="443.30" x2="74.55" y2="444.50" stroke="#6a6a6a" stroke-width="1.0"/>
<line x1="96.05" y1="443.30" x2="96.05" y2="444.50" stroke="#6a6a6a" stroke-width="1.0"/>
<line x1="117.55" y1="443.30" x2="117.55" y2="444.50" stroke="#6a6a6a" stroke-width="1.0"/>
<line x1="139.05" y1="443.30" x2="139.05" y2="444.50" stroke="#6a6a6a" stroke-width="1.0"/>
<text x="42.30" y="452.85" font-size="6.8" text-anchor="middle" fill="#111">Li</text>
<text x="63.80" y="452.85" font-size="6.8" text-anchor="middle" fill="#111">Na</text>
<text x="85.30" y="452.85" font-size="6.8" text-anchor="middle" fill="#111">K</text>
<text x="106.80" y="452.85" font-size="6.8" text-anchor="middle" fill="#111">Rb</text>
<text x="128.30" y="452.85" font-size="6.8" text-anchor="middle" fill="#111">Cs</text>
<text x="149.80" y="452.85" font-size="6.8" text-anchor="middle" fill="#111">choline</text>
<rect x="33.50" y="407.39" width="8.80" height="1.21" fill="#0a30f0" stroke="#333" stroke-width="0.5"/>
<line x1="37.90" y1="407.04" x2="37.90" y2="407.73" stroke="#222" stroke-width="0.7"/>
<line x1="36.40" y1="407.04" x2="39.40" y2="407.04" stroke="#222" stroke-width="0.7"/>
<line x1="36.40" y1="407.73" x2="39.40" y2="407.73" stroke="#222" stroke-width="0.7"/>
<rect x="42.30" y="408.60" width="8.80" height="5.73" fill="#ff8000" stroke="#333" stroke-width="0.5"/>
<line x1="46.70" y1="413.46" x2="46.70" y2="415.19" stroke="#222" stroke-width="0.7"/>
<line x1="45.20" y1="413.46" x2="48.20" y2="413.46" stroke="#222" stroke-width="0.7"/>
<line x1="45.20" y1="415.19" x2="48.20" y2="415.19" stroke="#222" stroke-width="0.7"/>
<rect x="55.00" y="408.60" width="8.80" height="1.74" fill="#0a30f0" stroke="#333" stroke-width="0.5"/>
<line x1="59.40" y1="409.81" x2="59.40" y2="410.86" stroke="#222" stroke-width="0.7"/>
<line x1="57.90" y1="409.81" x2="60.90" y2="409.81" stroke="#222" stroke-width="0.7"/>
<line x1="57.90" y1="410.86" x2="60.90" y2="410.86" stroke="#222" stroke-width="0.7"/>
<rect x="63.80" y="408.60" width="8.80" height="3.82" fill="#ff8000" stroke="#333" stroke-width="0.5"/>
<line x1="68.20" y1="411.55" x2="68.20" y2="413.28" stroke="#222" stroke-width="0.7"/>
<line x1="66.70" y1="411.55" x2="69.70" y2="411.55" stroke="#222" stroke-width="0.7"/>
<line x1="66.70" y1="413.28" x2="69.70" y2="413.28" stroke="#222" stroke-width="0.7"/>
<rect x="76.50" y="386.91" width="8.80" height="21.69" fill="#0a30f0" stroke="#333" stroke-width="0.5"/>
<line x1="80.90" y1="385.52" x2="80.90" y2="388.30" stroke="#222" stroke-width="0.7"/>
<line x1="79.40" y1="385.52" x2="82.40" y2="385.52" stroke="#222" stroke-width="0.7"/>
<line x1="79.40" y1="388.30" x2="82.40" y2="388.30" stroke="#222" stroke-width="0.7"/>
<rect x="85.30" y="408.60" width="8.80" height="5.73" fill="#ff8000" stroke="#333" stroke-width="0.5"/>
<line x1="89.70" y1="413.46" x2="89.70" y2="415.19" stroke="#222" stroke-width="0.7"/>
<line x1="88.20" y1="413.46" x2="91.20" y2="413.46" stroke="#222" stroke-width="0.7"/>
<line x1="88.20" y1="415.19" x2="91.20" y2="415.19" stroke="#222" stroke-width="0.7"/>
<rect x="98.00" y="360.02" width="8.80" height="48.58" fill="#0a30f0" stroke="#333" stroke-width="0.5"/>
<line x1="102.40" y1="355.68" x2="102.40" y2="364.36" stroke="#222" stroke-width="0.7"/>
<line x1="100.90" y1="355.68" x2="103.90" y2="355.68" stroke="#222" stroke-width="0.7"/>
<line x1="100.90" y1="364.36" x2="103.90" y2="364.36" stroke="#222" stroke-width="0.7"/>
<rect x="106.80" y="408.60" width="8.80" height="28.97" fill="#ff8000" stroke="#333" stroke-width="0.5"/>
<line x1="111.20" y1="435.49" x2="111.20" y2="439.66" stroke="#222" stroke-width="0.7"/>
<line x1="109.70" y1="435.49" x2="112.70" y2="435.49" stroke="#222" stroke-width="0.7"/>
<line x1="109.70" y1="439.66" x2="112.70" y2="439.66" stroke="#222" stroke-width="0.7"/>
<rect x="119.50" y="348.74" width="8.80" height="59.86" fill="#0a30f0" stroke="#333" stroke-width="0.5"/>
<line x1="123.90" y1="345.27" x2="123.90" y2="352.21" stroke="#222" stroke-width="0.7"/>
<line x1="122.40" y1="345.27" x2="125.40" y2="345.27" stroke="#222" stroke-width="0.7"/>
<line x1="122.40" y1="352.21" x2="125.40" y2="352.21" stroke="#222" stroke-width="0.7"/>
<rect x="128.30" y="408.60" width="8.80" height="21.51" fill="#ff8000" stroke="#333" stroke-width="0.5"/>
<line x1="132.70" y1="428.03" x2="132.70" y2="432.20" stroke="#222" stroke-width="0.7"/>
<line x1="131.20" y1="428.03" x2="134.20" y2="428.03" stroke="#222" stroke-width="0.7"/>
<line x1="131.20" y1="432.20" x2="134.20" y2="432.20" stroke="#222" stroke-width="0.7"/>
<rect x="141.00" y="408.60" width="8.80" height="3.82" fill="#0a30f0" stroke="#333" stroke-width="0.5"/>
<line x1="145.40" y1="411.90" x2="145.40" y2="412.94" stroke="#222" stroke-width="0.7"/>
<line x1="143.90" y1="411.90" x2="146.90" y2="411.90" stroke="#222" stroke-width="0.7"/>
<line x1="143.90" y1="412.94" x2="146.90" y2="412.94" stroke="#222" stroke-width="0.7"/>
<rect x="149.80" y="408.60" width="8.80" height="4.34" fill="#ff8000" stroke="#333" stroke-width="0.5"/>
<line x1="154.20" y1="412.07" x2="154.20" y2="413.81" stroke="#222" stroke-width="0.7"/>
<line x1="152.70" y1="412.07" x2="155.70" y2="412.07" stroke="#222" stroke-width="0.7"/>
<line x1="152.70" y1="413.81" x2="155.70" y2="413.81" stroke="#222" stroke-width="0.7"/>
<rect x="37.50" y="331.10" width="14.90" height="6.30" fill="#0a30f0" stroke="#333" stroke-width="0.6"/>
<text x="54.30" y="336.70" font-size="6.8" text-anchor="start" fill="#111">TMEM175</text>
<rect x="37.50" y="338.40" width="14.90" height="7.30" fill="#ff8000" stroke="#333" stroke-width="0.6"/>
<text x="54.30" y="344.50" font-size="6.8" text-anchor="start" fill="#111">TMEM175 (4-AP)</text>
<text x="0" y="0" font-size="7.8" text-anchor="middle" fill="#111" transform="translate(188.61 390.80) rotate(-90)">current [nA]</text>
<line x1="200.40" y1="338.90" x2="200.40" y2="443.30" stroke="#6a6a6a" stroke-width="1.0"/>
<line x1="198.40" y1="338.90" x2="200.40" y2="338.90" stroke="#6a6a6a" stroke-width="1.0"/>
<text x="197.40" y="341.71" font-size="7.8" text-anchor="end" fill="#111">4</text>
<line x1="198.40" y1="356.30" x2="200.40" y2="356.30" stroke="#6a6a6a" stroke-width="1.0"/>
<text x="197.40" y="359.11" font-size="7.8" text-anchor="end" fill="#111">3</text>
<line x1="198.40" y1="373.70" x2="200.40" y2="373.70" stroke="#6a6a6a" stroke-width="1.0"/>
<text x="197.40" y="376.51" font-size="7.8" text-anchor="end" fill="#111">2</text>
<line x1="198.40" y1="391.10" x2="200.40" y2="391.10" stroke="#6a6a6a" stroke-width="1.0"/>
<text x="197.40" y="393.91" font-size="7.8" text-anchor="end" fill="#111">1</text>
<line x1="198.40" y1="408.50" x2="200.40" y2="408.50" stroke="#6a6a6a" stroke-width="1.0"/>
<text x="197.40" y="411.31" font-size="7.8" text-anchor="end" fill="#111">0</text>
<line x1="198.40" y1="425.90" x2="200.40" y2="425.90" stroke="#6a6a6a" stroke-width="1.0"/>
<text x="197.40" y="428.71" font-size="7.8" text-anchor="end" fill="#111">-1</text>
<line x1="198.40" y1="443.30" x2="200.40" y2="443.30" stroke="#6a6a6a" stroke-width="1.0"/>
<text x="197.40" y="446.11" font-size="7.8" text-anchor="end" fill="#111">-2</text>
<line x1="199.20" y1="347.60" x2="200.40" y2="347.60" stroke="#6a6a6a" stroke-width="1.0"/>
<line x1="199.20" y1="365.00" x2="200.40" y2="365.00" stroke="#6a6a6a" stroke-width="1.0"/>
<line x1="199.20" y1="382.40" x2="200.40" y2="382.40" stroke="#6a6a6a" stroke-width="1.0"/>
<line x1="199.20" y1="399.80" x2="200.40" y2="399.80" stroke="#6a6a6a" stroke-width="1.0"/>
<line x1="199.20" y1="417.20" x2="200.40" y2="417.20" stroke="#6a6a6a" stroke-width="1.0"/>
<line x1="199.20" y1="434.60" x2="200.40" y2="434.60" stroke="#6a6a6a" stroke-width="1.0"/>
<line x1="200.40" y1="408.50" x2="330.20" y2="408.50" stroke="#aaa" stroke-width="0.8"/>
<line x1="200.40" y1="443.30" x2="330.20" y2="443.30" stroke="#6a6a6a" stroke-width="1.0"/>
<line x1="211.40" y1="443.30" x2="211.40" y2="445.30" stroke="#6a6a6a" stroke-width="1.0"/>
<line x1="232.90" y1="443.30" x2="232.90" y2="445.30" stroke="#6a6a6a" stroke-width="1.0"/>
<line x1="254.40" y1="443.30" x2="254.40" y2="445.30" stroke="#6a6a6a" stroke-width="1.0"/>
<line x1="275.90" y1="443.30" x2="275.90" y2="445.30" stroke="#6a6a6a" stroke-width="1.0"/>
<line x1="297.40" y1="443.30" x2="297.40" y2="445.30" stroke="#6a6a6a" stroke-width="1.0"/>
<line x1="318.90" y1="443.30" x2="318.90" y2="445.30" stroke="#6a6a6a" stroke-width="1.0"/>
<line x1="222.15" y1="443.30" x2="222.15" y2="444.50" stroke="#6a6a6a" stroke-width="1.0"/>
<line x1="243.65" y1="443.30" x2="243.65" y2="444.50" stroke="#6a6a6a" stroke-width="1.0"/>
<line x1="265.15" y1="443.30" x2="265.15" y2="444.50" stroke="#6a6a6a" stroke-width="1.0"/>
<line x1="286.65" y1="443.30" x2="286.65" y2="444.50" stroke="#6a6a6a" stroke-width="1.0"/>
<line x1="308.15" y1="443.30" x2="308.15" y2="444.50" stroke="#6a6a6a" stroke-width="1.0"/>
<text x="211.40" y="452.95" font-size="6.8" text-anchor="middle" fill="#111">Li</text>
<text x="232.90" y="452.95" font-size="6.8" text-anchor="middle" fill="#111">Na</text>
<text x="254.40" y="452.95" font-size="6.8" text-anchor="middle" fill="#111">K</text>
<text x="275.90" y="452.95" font-size="6.8" text-anchor="middle" fill="#111">Rb</text>
<text x="297.40" y="452.95" font-size="6.8" text-anchor="middle" fill="#111">Cs</text>
<text x="318.90" y="452.95" font-size="6.8" text-anchor="middle" fill="#111">choline</text>
<rect x="202.70" y="403.28" width="8.70" height="5.22" fill="#e5103f" stroke="#333" stroke-width="0.5"/>
<line x1="207.05" y1="402.76" x2="207.05" y2="403.80" stroke="#222" stroke-width="0.7"/>
<line x1="205.55" y1="402.76" x2="208.55" y2="402.76" stroke="#222" stroke-width="0.7"/>
<line x1="205.55" y1="403.80" x2="208.55" y2="403.80" stroke="#222" stroke-width="0.7"/>
<rect x="211.40" y="408.50" width="8.70" height="3.83" fill="#ff8000" stroke="#333" stroke-width="0.5"/>
<line x1="215.75" y1="411.46" x2="215.75" y2="413.20" stroke="#222" stroke-width="0.7"/>
<line x1="214.25" y1="411.46" x2="217.25" y2="411.46" stroke="#222" stroke-width="0.7"/>
<line x1="214.25" y1="413.20" x2="217.25" y2="413.20" stroke="#222" stroke-width="0.7"/>
<rect x="224.20" y="407.11" width="8.70" height="1.39" fill="#e5103f" stroke="#333" stroke-width="0.5"/>
<line x1="228.55" y1="406.59" x2="228.55" y2="407.63" stroke="#222" stroke-width="0.7"/>
<line x1="227.05" y1="406.59" x2="230.05" y2="406.59" stroke="#222" stroke-width="0.7"/>
<line x1="227.05" y1="407.63" x2="230.05" y2="407.63" stroke="#222" stroke-width="0.7"/>
<rect x="232.90" y="408.50" width="8.70" height="2.61" fill="#ff8000" stroke="#333" stroke-width="0.5"/>
<line x1="237.25" y1="410.76" x2="237.25" y2="411.46" stroke="#222" stroke-width="0.7"/>
<line x1="235.75" y1="410.76" x2="238.75" y2="410.76" stroke="#222" stroke-width="0.7"/>
<line x1="235.75" y1="411.46" x2="238.75" y2="411.46" stroke="#222" stroke-width="0.7"/>
<rect x="245.70" y="408.50" width="8.70" height="4.35" fill="#e5103f" stroke="#333" stroke-width="0.5"/>
<line x1="250.05" y1="412.33" x2="250.05" y2="413.37" stroke="#222" stroke-width="0.7"/>
<line x1="248.55" y1="412.33" x2="251.55" y2="412.33" stroke="#222" stroke-width="0.7"/>
<line x1="248.55" y1="413.37" x2="251.55" y2="413.37" stroke="#222" stroke-width="0.7"/>
<rect x="254.40" y="408.50" width="8.70" height="6.96" fill="#ff8000" stroke="#333" stroke-width="0.5"/>
<line x1="258.75" y1="414.76" x2="258.75" y2="416.16" stroke="#222" stroke-width="0.7"/>
<line x1="257.25" y1="414.76" x2="260.25" y2="414.76" stroke="#222" stroke-width="0.7"/>
<line x1="257.25" y1="416.16" x2="260.25" y2="416.16" stroke="#222" stroke-width="0.7"/>
<rect x="267.20" y="408.50" width="8.70" height="24.71" fill="#e5103f" stroke="#333" stroke-width="0.5"/>
<line x1="271.55" y1="431.82" x2="271.55" y2="434.60" stroke="#222" stroke-width="0.7"/>
<line x1="270.05" y1="431.82" x2="273.05" y2="431.82" stroke="#222" stroke-width="0.7"/>
<line x1="270.05" y1="434.60" x2="273.05" y2="434.60" stroke="#222" stroke-width="0.7"/>
<rect x="275.90" y="408.50" width="8.70" height="32.02" fill="#ff8000" stroke="#333" stroke-width="0.5"/>
<line x1="280.25" y1="438.78" x2="280.25" y2="442.26" stroke="#222" stroke-width="0.7"/>
<line x1="278.75" y1="438.78" x2="281.75" y2="438.78" stroke="#222" stroke-width="0.7"/>
<line x1="278.75" y1="442.26" x2="281.75" y2="442.26" stroke="#222" stroke-width="0.7"/>
<rect x="288.70" y="408.50" width="8.70" height="25.23" fill="#e5103f" stroke="#333" stroke-width="0.5"/>
<line x1="293.05" y1="431.99" x2="293.05" y2="435.47" stroke="#222" stroke-width="0.7"/>
<line x1="291.55" y1="431.99" x2="294.55" y2="431.99" stroke="#222" stroke-width="0.7"/>
<line x1="291.55" y1="435.47" x2="294.55" y2="435.47" stroke="#222" stroke-width="0.7"/>
<rect x="297.40" y="408.50" width="8.70" height="24.88" fill="#ff8000" stroke="#333" stroke-width="0.5"/>
<line x1="301.75" y1="431.64" x2="301.75" y2="435.12" stroke="#222" stroke-width="0.7"/>
<line x1="300.25" y1="431.64" x2="303.25" y2="431.64" stroke="#222" stroke-width="0.7"/>
<line x1="300.25" y1="435.12" x2="303.25" y2="435.12" stroke="#222" stroke-width="0.7"/>
<rect x="310.20" y="408.50" width="8.70" height="4.00" fill="#e5103f" stroke="#333" stroke-width="0.5"/>
<line x1="314.55" y1="411.98" x2="314.55" y2="413.02" stroke="#222" stroke-width="0.7"/>
<line x1="313.05" y1="411.98" x2="316.05" y2="411.98" stroke="#222" stroke-width="0.7"/>
<line x1="313.05" y1="413.02" x2="316.05" y2="413.02" stroke="#222" stroke-width="0.7"/>
<rect x="318.90" y="408.50" width="8.70" height="5.57" fill="#ff8000" stroke="#333" stroke-width="0.5"/>
<line x1="323.25" y1="413.55" x2="323.25" y2="414.59" stroke="#222" stroke-width="0.7"/>
<line x1="321.75" y1="413.55" x2="324.75" y2="413.55" stroke="#222" stroke-width="0.7"/>
<line x1="321.75" y1="414.59" x2="324.75" y2="414.59" stroke="#222" stroke-width="0.7"/>
<rect x="206.60" y="331.70" width="15.00" height="7.10" fill="#e5103f" stroke="#333" stroke-width="0.6"/>
<text x="223.60" y="337.70" font-size="6.8" text-anchor="start" fill="#111">Control</text>
<rect x="206.60" y="339.80" width="15.00" height="7.40" fill="#ff8000" stroke="#333" stroke-width="0.6"/>
<text x="223.60" y="345.95" font-size="6.8" text-anchor="start" fill="#111">Control (4-AP)</text>
<text x="340.20" y="330.68" font-size="18" text-anchor="start" fill="#111">F</text>
<text x="0" y="0" font-size="8.7" text-anchor="middle" fill="#111" transform="translate(367.03 398.90) rotate(-90)">artifact corrected current [nA]</text>
<line x1="382.40" y1="333.00" x2="382.40" y2="465.30" stroke="#6a6a6a" stroke-width="1.0"/>
<line x1="380.40" y1="333.00" x2="382.40" y2="333.00" stroke="#6a6a6a" stroke-width="1.0"/>
<text x="377.40" y="335.99" font-size="8.3" text-anchor="end" fill="#111">6</text>
<line x1="380.40" y1="351.90" x2="382.40" y2="351.90" stroke="#6a6a6a" stroke-width="1.0"/>
<text x="377.40" y="354.89" font-size="8.3" text-anchor="end" fill="#111">5</text>
<line x1="380.40" y1="370.80" x2="382.40" y2="370.80" stroke="#6a6a6a" stroke-width="1.0"/>
<text x="377.40" y="373.79" font-size="8.3" text-anchor="end" fill="#111">4</text>
<line x1="380.40" y1="389.70" x2="382.40" y2="389.70" stroke="#6a6a6a" stroke-width="1.0"/>
<text x="377.40" y="392.69" font-size="8.3" text-anchor="end" fill="#111">3</text>
<line x1="380.40" y1="408.60" x2="382.40" y2="408.60" stroke="#6a6a6a" stroke-width="1.0"/>
<text x="377.40" y="411.59" font-size="8.3" text-anchor="end" fill="#111">2</text>
<line x1="380.40" y1="427.50" x2="382.40" y2="427.50" stroke="#6a6a6a" stroke-width="1.0"/>
<text x="377.40" y="430.49" font-size="8.3" text-anchor="end" fill="#111">1</text>
<line x1="380.40" y1="446.40" x2="382.40" y2="446.40" stroke="#6a6a6a" stroke-width="1.0"/>
<text x="377.40" y="449.39" font-size="8.3" text-anchor="end" fill="#111">0</text>
<line x1="380.40" y1="465.30" x2="382.40" y2="465.30" stroke="#6a6a6a" stroke-width="1.0"/>
<text x="377.40" y="468.29" font-size="8.3" text-anchor="end" fill="#111">-1</text>
<line x1="381.20" y1="342.45" x2="382.40" y2="342.45" stroke="#6a6a6a" stroke-width="1.0"/>
<line x1="381.20" y1="361.35" x2="382.40" y2="361.35" stroke="#6a6a6a" stroke-width="1.0"/>
<line x1="381.20" y1="380.25" x2="382.40" y2="380.25" stroke="#6a6a6a" stroke-width="1.0"/>
<line x1="381.20" y1="399.15" x2="382.40" y2="399.15" stroke="#6a6a6a" stroke-width="1.0"/>
<line x1="381.20" y1="418.05" x2="382.40" y2="418.05" stroke="#6a6a6a" stroke-width="1.0"/>
<line x1="381.20" y1="436.95" x2="382.40" y2="436.95" stroke="#6a6a6a" stroke-width="1.0"/>
<line x1="381.20" y1="455.85" x2="382.40" y2="455.85" stroke="#6a6a6a" stroke-width="1.0"/>
<line x1="382.40" y1="446.40" x2="546.00" y2="446.40" stroke="#aaa" stroke-width="0.8"/>
<line x1="382.40" y1="465.30" x2="546.00" y2="465.30" stroke="#6a6a6a" stroke-width="1.0"/>
<line x1="395.90" y1="465.30" x2="395.90" y2="467.30" stroke="#6a6a6a" stroke-width="1.0"/>
<line x1="423.15" y1="465.30" x2="423.15" y2="467.30" stroke="#6a6a6a" stroke-width="1.0"/>
<line x1="450.40" y1="465.30" x2="450.40" y2="467.30" stroke="#6a6a6a" stroke-width="1.0"/>
<line x1="477.65" y1="465.30" x2="477.65" y2="467.30" stroke="#6a6a6a" stroke-width="1.0"/>
<line x1="504.90" y1="465.30" x2="504.90" y2="467.30" stroke="#6a6a6a" stroke-width="1.0"/>
<line x1="532.15" y1="465.30" x2="532.15" y2="467.30" stroke="#6a6a6a" stroke-width="1.0"/>
<line x1="409.50" y1="465.30" x2="409.50" y2="466.50" stroke="#6a6a6a" stroke-width="1.0"/>
<line x1="436.75" y1="465.30" x2="436.75" y2="466.50" stroke="#6a6a6a" stroke-width="1.0"/>
<line x1="464.00" y1="465.30" x2="464.00" y2="466.50" stroke="#6a6a6a" stroke-width="1.0"/>
<line x1="491.25" y1="465.30" x2="491.25" y2="466.50" stroke="#6a6a6a" stroke-width="1.0"/>
<line x1="518.50" y1="465.30" x2="518.50" y2="466.50" stroke="#6a6a6a" stroke-width="1.0"/>
<text x="395.90" y="476.46" font-size="8.5" text-anchor="middle" fill="#111">Li</text>
<text x="423.15" y="476.46" font-size="8.5" text-anchor="middle" fill="#111">Na</text>
<text x="450.40" y="476.46" font-size="8.5" text-anchor="middle" fill="#111">K</text>
<text x="477.65" y="476.46" font-size="8.5" text-anchor="middle" fill="#111">Rb</text>
<text x="504.90" y="476.46" font-size="8.5" text-anchor="middle" fill="#111">Cs</text>
<text x="532.15" y="476.46" font-size="8.5" text-anchor="middle" fill="#111">choline</text>
<rect x="385.00" y="446.40" width="10.90" height="4.16" fill="#10c010" stroke="#333" stroke-width="0.5"/>
<line x1="390.45" y1="448.67" x2="390.45" y2="452.45" stroke="#222" stroke-width="0.7"/>
<line x1="388.95" y1="448.67" x2="391.95" y2="448.67" stroke="#222" stroke-width="0.7"/>
<line x1="388.95" y1="452.45" x2="391.95" y2="452.45" stroke="#222" stroke-width="0.7"/>
<rect x="395.90" y="446.40" width="10.90" height="1.32" fill="#ff8000" stroke="#333" stroke-width="0.5"/>
<line x1="401.35" y1="443.00" x2="401.35" y2="452.45" stroke="#222" stroke-width="0.7"/>
<line x1="399.85" y1="443.00" x2="402.85" y2="443.00" stroke="#222" stroke-width="0.7"/>
<line x1="399.85" y1="452.45" x2="402.85" y2="452.45" stroke="#222" stroke-width="0.7"/>
<rect x="412.25" y="446.40" width="10.90" height="3.78" fill="#10c010" stroke="#333" stroke-width="0.5"/>
<line x1="417.70" y1="448.67" x2="417.70" y2="451.69" stroke="#222" stroke-width="0.7"/>
<line x1="416.20" y1="448.67" x2="419.20" y2="448.67" stroke="#222" stroke-width="0.7"/>
<line x1="416.20" y1="451.69" x2="419.20" y2="451.69" stroke="#222" stroke-width="0.7"/>
<rect x="423.15" y="446.40" width="10.90" height="1.32" fill="#ff8000" stroke="#333" stroke-width="0.5"/>
<line x1="428.60" y1="446.21" x2="428.60" y2="449.23" stroke="#222" stroke-width="0.7"/>
<line x1="427.10" y1="446.21" x2="430.10" y2="446.21" stroke="#222" stroke-width="0.7"/>
<line x1="427.10" y1="449.23" x2="430.10" y2="449.23" stroke="#222" stroke-width="0.7"/>
<rect x="439.50" y="418.43" width="10.90" height="27.97" fill="#10c010" stroke="#333" stroke-width="0.5"/>
<line x1="444.95" y1="416.16" x2="444.95" y2="420.70" stroke="#222" stroke-width="0.7"/>
<line x1="443.45" y1="416.16" x2="446.45" y2="416.16" stroke="#222" stroke-width="0.7"/>
<line x1="443.45" y1="420.70" x2="446.45" y2="420.70" stroke="#222" stroke-width="0.7"/>
<rect x="450.40" y="445.45" width="10.90" height="0.94" fill="#ff8000" stroke="#333" stroke-width="0.5"/>
<line x1="455.85" y1="441.67" x2="455.85" y2="449.23" stroke="#222" stroke-width="0.7"/>
<line x1="454.35" y1="441.67" x2="457.35" y2="441.67" stroke="#222" stroke-width="0.7"/>
<line x1="454.35" y1="449.23" x2="457.35" y2="449.23" stroke="#222" stroke-width="0.7"/>
<rect x="466.75" y="366.45" width="10.90" height="79.95" fill="#10c010" stroke="#333" stroke-width="0.5"/>
<line x1="472.20" y1="357.38" x2="472.20" y2="375.52" stroke="#222" stroke-width="0.7"/>
<line x1="470.70" y1="357.38" x2="473.70" y2="357.38" stroke="#222" stroke-width="0.7"/>
<line x1="470.70" y1="375.52" x2="473.70" y2="375.52" stroke="#222" stroke-width="0.7"/>
<rect x="477.65" y="442.81" width="10.90" height="3.59" fill="#ff8000" stroke="#333" stroke-width="0.5"/>
<line x1="483.10" y1="432.41" x2="483.10" y2="453.20" stroke="#222" stroke-width="0.7"/>
<line x1="481.60" y1="432.41" x2="484.60" y2="432.41" stroke="#222" stroke-width="0.7"/>
<line x1="481.60" y1="453.20" x2="484.60" y2="453.20" stroke="#222" stroke-width="0.7"/>
<rect x="494.00" y="353.79" width="10.90" height="92.61" fill="#10c010" stroke="#333" stroke-width="0.5"/>
<line x1="499.45" y1="344.34" x2="499.45" y2="363.24" stroke="#222" stroke-width="0.7"/>
<line x1="497.95" y1="344.34" x2="500.95" y2="344.34" stroke="#222" stroke-width="0.7"/>
<line x1="497.95" y1="363.24" x2="500.95" y2="363.24" stroke="#222" stroke-width="0.7"/>
<rect x="504.90" y="442.62" width="10.90" height="3.78" fill="#ff8000" stroke="#333" stroke-width="0.5"/>
<line x1="510.35" y1="433.55" x2="510.35" y2="451.69" stroke="#222" stroke-width="0.7"/>
<line x1="508.85" y1="433.55" x2="511.85" y2="433.55" stroke="#222" stroke-width="0.7"/>
<line x1="508.85" y1="451.69" x2="511.85" y2="451.69" stroke="#222" stroke-width="0.7"/>
<rect x="521.25" y="446.02" width="10.90" height="0.60" fill="#10c010" stroke="#333" stroke-width="0.5"/>
<line x1="526.70" y1="445.45" x2="526.70" y2="446.59" stroke="#222" stroke-width="0.7"/>
<line x1="525.20" y1="445.45" x2="528.20" y2="445.45" stroke="#222" stroke-width="0.7"/>
<line x1="525.20" y1="446.59" x2="528.20" y2="446.59" stroke="#222" stroke-width="0.7"/>
<rect x="532.15" y="445.45" width="10.90" height="0.94" fill="#ff8000" stroke="#333" stroke-width="0.5"/>
<line x1="537.60" y1="444.70" x2="537.60" y2="446.21" stroke="#222" stroke-width="0.7"/>
<line x1="536.10" y1="444.70" x2="539.10" y2="444.70" stroke="#222" stroke-width="0.7"/>
<line x1="536.10" y1="446.21" x2="539.10" y2="446.21" stroke="#222" stroke-width="0.7"/>
<rect x="388.40" y="333.10" width="15.20" height="6.60" fill="#10c010" stroke="#333" stroke-width="0.6"/>
<text x="405.60" y="338.85" font-size="6.8" text-anchor="start" fill="#111">TMEM175 - control</text>
<rect x="388.40" y="340.70" width="15.20" height="6.80" fill="#ff8000" stroke="#333" stroke-width="0.6"/>
<text x="405.60" y="346.55" font-size="6.8" text-anchor="start" fill="#111">TMEM175 - control (4-AP)</text>
</svg>
</body></html>
